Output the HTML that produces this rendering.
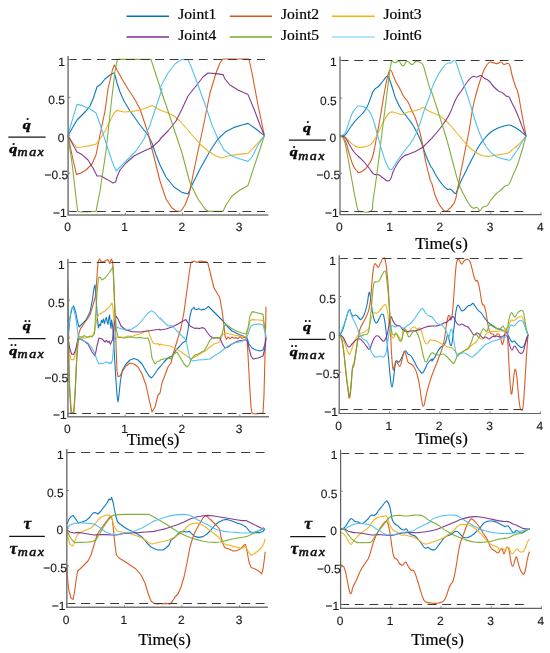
<!DOCTYPE html>
<html><head><meta charset="utf-8"><title>Joint trajectories</title>
<style>
html,body{margin:0;padding:0;background:#fff;}
body{width:550px;height:653px;overflow:hidden;}
svg{display:block;}
.tk{font-family:"Liberation Sans",Arial,sans-serif;font-size:12px;fill:#1c1c1c;stroke:#1c1c1c;stroke-width:0.15px;text-rendering:geometricPrecision;}
.tm{font-family:"Liberation Serif","Times New Roman",serif;font-size:16.8px;fill:#000;stroke:#000;stroke-width:0.2px;}
.lg{font-family:"Liberation Serif","Times New Roman",serif;font-size:15.6px;fill:#000;stroke:#000;stroke-width:0.2px;}
.q{font-family:"Liberation Serif","Times New Roman",serif;font-weight:bold;font-style:italic;font-size:13.4px;fill:#0a0a0a;stroke:#0a0a0a;stroke-width:0.5px;}
.mx{font-family:"Liberation Serif","Times New Roman",serif;font-style:italic;font-size:11.6px;fill:#111;letter-spacing:1.25px;stroke:#111;stroke-width:0.5px;}
.tau{font-family:"Liberation Serif","Times New Roman",serif;font-weight:bold;font-style:italic;font-size:17.5px;fill:#111;stroke:#111;stroke-width:0.4px;}
.dt{font-family:"Liberation Serif","Times New Roman",serif;font-weight:bold;font-size:13px;fill:#111;}
.cv{fill:none;stroke-width:1.1;stroke-opacity:0.95;stroke-linejoin:round;stroke-linecap:round;}
</style></head><body>
<svg width="550" height="653" viewBox="0 0 550 653">
<rect width="550" height="653" fill="#fff"/>
<line x1="126.5" y1="16.3" x2="169" y2="16.3" stroke="#0072bd" stroke-width="1.5"/>
<text class="lg" x="178.2" y="19.3">Joint1</text>
<line x1="229.8" y1="16.3" x2="272" y2="16.3" stroke="#d95319" stroke-width="1.5"/>
<text class="lg" x="281" y="19.3">Joint2</text>
<line x1="332" y1="16.3" x2="374.8" y2="16.3" stroke="#fab300" stroke-width="1.5"/>
<text class="lg" x="383.5" y="19.3">Joint3</text>
<line x1="126.5" y1="36.9" x2="169" y2="36.9" stroke="#7e2f8e" stroke-width="1.5"/>
<text class="lg" x="178.2" y="39.9">Joint4</text>
<line x1="229.8" y1="36.9" x2="272" y2="36.9" stroke="#77ac30" stroke-width="1.5"/>
<text class="lg" x="281" y="39.9">Joint5</text>
<line x1="332" y1="36.9" x2="374.8" y2="36.9" stroke="#9dd8f5" stroke-width="1.5"/>
<text class="lg" x="383.5" y="39.9">Joint6</text>
<g id="L1">
<polyline class="cv" stroke="#0072bd" points="68.0,135.6 77.0,120.0 81.0,116.0 86.0,111.0 90.0,106.0 93.0,99.0 97.0,87.0 101.0,84.0 105.0,79.0 110.0,75.0 113.6,73.0 115.0,75.0 117.0,83.0 120.0,92.0 124.0,101.0 130.0,111.0 140.0,125.0 148.0,135.0 152.0,143.0 156.0,155.0 160.0,165.0 166.0,177.0 174.0,187.0 182.0,192.4 188.0,194.0 192.0,185.0 200.0,169.0 210.0,151.0 218.0,139.0 226.0,131.4 234.0,127.4 242.0,125.0 248.0,123.4 256.0,129.0 264.4,135.6"/>
<polyline class="cv" stroke="#d95319" points="68.0,135.6 72.0,155.0 76.4,174.4 80.0,173.4 86.0,170.0 92.0,164.0 96.0,155.0 100.0,135.0 105.0,111.0 108.0,89.0 112.4,70.0 114.4,65.0 117.0,70.0 122.0,79.0 128.0,89.0 134.0,98.0 140.0,109.0 144.0,121.0 148.0,133.0 152.0,149.0 156.0,165.0 160.0,181.0 166.0,199.0 172.0,208.0 177.0,211.4 181.0,211.0 185.0,205.0 189.0,195.0 193.0,175.0 198.0,151.0 204.0,123.0 210.0,93.0 216.0,73.0 220.0,63.0 223.0,59.0 249.0,59.0 252.0,73.0 258.0,105.0 264.4,135.6"/>
<polyline class="cv" stroke="#edb120" points="68.0,135.6 73.0,143.0 77.0,147.4 82.0,147.0 90.0,145.6 96.0,144.0 100.0,139.0 105.0,131.0 110.0,121.0 114.0,113.0 117.0,110.4 124.0,112.0 132.0,111.4 140.0,110.0 146.0,108.0 152.0,105.6 160.0,110.0 160.0,110.0 168.0,113.0 174.0,116.0 180.0,121.0 186.0,128.0 192.0,135.0 200.0,144.0 208.0,151.0 216.0,156.0 222.0,158.0 228.0,156.0 236.0,154.6 248.0,153.4 256.0,145.0 264.4,135.6"/>
<polyline class="cv" stroke="#7e2f8e" points="68.0,135.6 72.0,143.0 77.0,152.0 82.0,154.6 88.0,160.0 93.0,168.0 97.0,176.0 101.0,176.0 107.0,179.4 113.0,183.0 115.6,182.0 117.0,177.0 120.0,170.0 126.0,163.0 134.0,156.0 144.0,151.0 152.0,147.4 160.0,140.0 160.0,139.0 168.0,131.0 176.0,121.0 182.0,109.0 188.0,96.0 196.0,86.0 203.0,77.0 208.0,73.0 216.0,73.6 223.0,74.6 225.0,79.0 230.0,85.0 238.0,90.0 248.0,94.6 254.0,109.0 260.0,125.0 264.4,135.6"/>
<polyline class="cv" stroke="#77ac30" points="68.0,135.6 72.0,163.0 77.6,211.0 80.0,212.0 96.0,211.4 100.0,191.0 106.0,151.0 111.0,105.0 115.0,71.0 117.4,59.4 151.0,59.4 156.0,75.0 164.0,99.0 160.0,88.0 166.0,105.0 174.0,129.0 182.0,153.0 190.0,183.0 198.0,199.0 205.0,209.0 208.0,211.4 223.0,211.4 226.0,205.0 232.0,196.0 240.0,190.0 248.0,185.4 254.0,167.0 260.0,149.0 264.4,135.6"/>
<polyline class="cv" stroke="#4dbeee" points="68.0,135.6 72.0,121.0 77.0,104.4 82.0,105.4 90.0,109.0 96.0,113.0 100.0,124.0 106.0,143.0 112.0,161.0 116.0,171.0 120.0,167.0 128.0,159.0 136.0,151.0 144.0,139.0 150.0,125.0 156.0,107.0 162.0,89.0 160.0,88.0 168.0,73.0 175.0,64.0 181.0,59.6 188.0,59.6 192.0,69.0 198.0,85.0 206.0,107.0 212.0,125.0 218.0,139.0 224.0,150.0 232.0,156.0 240.0,159.0 248.0,161.4 252.0,157.0 258.0,145.0 264.4,135.6"/>
<line x1="67.8" y1="59.50" x2="265.0" y2="59.50" stroke="#3a3a3a" stroke-width="1.2" stroke-dasharray="8.9 5.65"/>
<line x1="67.8" y1="211.50" x2="265.0" y2="211.50" stroke="#3a3a3a" stroke-width="1.2" stroke-dasharray="8.9 5.65"/>
<path d="M68.1 55.9 V214.9 H268.3" fill="none" stroke="#787878" stroke-width="1.5"/>
<line x1="68.1" y1="59.5" x2="70.3" y2="59.5" stroke="#787878" stroke-width="0.9"/>
<text class="tk" x="64.9" y="65.5" text-anchor="end">1</text>
<line x1="68.1" y1="97.4" x2="70.3" y2="97.4" stroke="#787878" stroke-width="0.9"/>
<text class="tk" x="64.9" y="103.9" text-anchor="end">0.5</text>
<line x1="68.1" y1="135.3" x2="70.3" y2="135.3" stroke="#787878" stroke-width="0.9"/>
<text class="tk" x="64.4" y="141.5" text-anchor="end">0</text>
<line x1="68.1" y1="173.3" x2="70.3" y2="173.3" stroke="#787878" stroke-width="0.9"/>
<text class="tk" x="68.3" y="179.2" text-anchor="end">−0.5</text>
<line x1="68.1" y1="211.2" x2="70.3" y2="211.2" stroke="#787878" stroke-width="0.9"/>
<text class="tk" x="66.8" y="217.2" text-anchor="end">−1</text>
<line x1="68.1" y1="214.9" x2="68.1" y2="212.70000000000002" stroke="#787878" stroke-width="0.9"/>
<text class="tk" x="67.5" y="231.4" text-anchor="middle">0</text>
<line x1="125.3" y1="214.9" x2="125.3" y2="212.70000000000002" stroke="#787878" stroke-width="0.9"/>
<text class="tk" x="124.7" y="231.4" text-anchor="middle">1</text>
<line x1="182.5" y1="214.9" x2="182.5" y2="212.70000000000002" stroke="#787878" stroke-width="0.9"/>
<text class="tk" x="181.9" y="231.4" text-anchor="middle">2</text>
<line x1="239.7" y1="214.9" x2="239.7" y2="212.70000000000002" stroke="#787878" stroke-width="0.9"/>
<text class="tk" x="239.1" y="231.4" text-anchor="middle">3</text>
</g>
<g id="R1">
<path class="cv" stroke="#0072bd" d="M340.4 136.0C341.6 135.7 343.1 136.3 345.0 135.0C346.9 133.7 346.2 133.5 348.0 131.0C349.8 128.5 349.7 128.0 352.0 125.0C354.3 122.0 354.5 121.8 357.0 119.0C359.5 116.2 359.5 117.0 362.0 114.0C364.5 111.0 364.7 111.3 367.0 107.0C369.3 102.7 369.2 101.3 371.0 97.0C372.8 92.7 372.0 92.8 374.0 90.0C376.0 87.2 376.7 88.3 379.0 86.0C381.3 83.7 380.8 83.5 383.0 81.0C385.2 78.5 385.8 76.0 387.6 76.0C389.4 76.0 388.6 77.5 390.0 81.0C391.4 84.5 391.5 85.4 393.0 90.0C394.5 94.6 394.0 94.2 396.0 99.0C398.0 103.8 398.2 104.4 401.0 109.0C403.8 113.6 403.7 112.4 407.0 117.0C410.3 121.6 410.7 121.4 414.0 127.0C417.3 132.6 417.2 132.4 420.0 139.0C422.8 145.6 422.5 146.4 425.0 153.0C427.5 159.6 428.2 161.2 430.0 165.0C431.8 168.8 430.2 165.0 432.0 168.0C433.8 171.0 434.5 172.9 437.0 177.0C439.5 181.1 439.5 181.0 442.0 184.0C444.5 187.0 444.7 187.6 447.0 189.0C449.3 190.4 449.0 188.3 451.0 189.4C453.0 190.5 453.5 193.0 455.0 193.4C456.5 193.8 455.5 194.1 457.0 191.0C458.5 187.9 458.5 186.6 461.0 181.0C463.5 175.4 464.0 175.1 467.0 169.0C470.0 162.9 470.0 162.8 473.0 157.0C476.0 151.2 476.0 150.8 479.0 146.0C482.0 141.2 482.0 141.5 485.0 138.0C488.0 134.5 488.0 134.4 491.0 132.0C494.0 129.6 494.0 130.0 497.0 128.6C500.0 127.2 500.0 127.3 503.0 126.4C506.0 125.5 506.5 125.0 509.0 125.0C511.5 125.0 510.5 125.1 513.0 126.4C515.5 127.7 516.5 128.2 519.0 130.0C521.5 131.8 521.2 131.9 523.0 133.4C524.8 134.9 525.2 135.3 526.0 136.0"/>
<path class="cv" stroke="#d95319" d="M340.4 136.0C341.6 137.0 342.8 135.7 345.0 140.0C347.2 144.3 347.0 146.7 349.0 153.0C351.0 159.3 351.0 160.4 353.0 165.0C355.0 169.6 355.5 169.1 357.0 171.0C358.5 172.9 357.2 172.9 359.0 172.6C360.8 172.3 361.5 172.2 364.0 170.0C366.5 167.8 366.7 167.8 369.0 164.0C371.3 160.2 371.0 162.3 373.0 155.0C375.0 147.7 375.0 145.6 377.0 135.0C379.0 124.4 379.0 124.7 381.0 113.0C383.0 101.3 383.2 98.6 385.0 89.0C386.8 79.4 386.6 79.8 388.0 75.0C389.4 70.2 389.1 70.0 390.4 70.0C391.7 70.0 391.6 72.0 393.0 75.0C394.4 78.0 394.2 78.5 396.0 82.0C397.8 85.5 398.0 85.2 400.0 89.0C402.0 92.8 402.0 93.7 404.0 97.0C406.0 100.3 406.0 98.5 408.0 102.0C410.0 105.5 410.0 106.4 412.0 111.0C414.0 115.6 414.0 114.4 416.0 120.0C418.0 125.6 418.2 126.2 420.0 133.0C421.8 139.8 421.5 139.4 423.0 147.0C424.5 154.6 424.2 154.9 426.0 163.0C427.8 171.1 428.5 173.7 430.0 179.0C431.5 184.3 430.7 179.9 432.0 184.0C433.3 188.1 433.2 189.9 435.0 195.0C436.8 200.1 437.0 200.4 439.0 204.0C441.0 207.6 441.2 207.5 443.0 209.4C444.8 211.3 444.5 211.5 446.0 211.4C447.5 211.3 447.2 210.7 449.0 209.0C450.8 207.3 451.3 207.1 453.0 204.6C454.7 202.1 454.4 203.0 455.6 199.0C456.8 195.0 456.2 196.1 457.6 189.0C459.0 181.9 459.1 180.6 461.0 171.0C462.9 161.4 463.0 161.1 465.0 151.0C467.0 140.9 467.0 142.1 469.0 131.0C471.0 119.9 471.0 117.1 473.0 107.0C475.0 96.9 475.0 98.3 477.0 91.0C479.0 83.7 479.0 83.8 481.0 78.0C483.0 72.2 483.0 71.9 485.0 68.0C487.0 64.1 487.0 64.0 489.0 62.6C491.0 61.2 491.0 62.3 493.0 62.6C495.0 62.9 495.0 63.8 497.0 63.6C499.0 63.4 499.2 61.8 501.0 62.0C502.8 62.2 502.3 64.0 504.0 64.4C505.7 64.8 506.1 63.0 507.6 63.4C509.1 63.8 508.9 63.1 510.0 66.0C511.1 68.9 510.7 70.2 512.0 75.0C513.3 79.8 513.5 80.4 515.0 85.0C516.5 89.6 516.5 86.9 518.0 93.0C519.5 99.1 519.6 101.4 521.0 109.0C522.4 116.6 522.3 116.2 523.6 123.0C524.9 129.8 525.4 132.7 526.0 136.0"/>
<path class="cv" stroke="#edb120" d="M340.4 136.0C341.6 136.3 342.6 135.5 345.0 137.0C347.4 138.5 347.5 139.7 350.0 142.0C352.5 144.3 352.5 144.6 355.0 146.0C357.5 147.4 357.2 147.3 360.0 147.4C362.8 147.5 363.2 147.3 366.0 146.4C368.8 145.5 368.7 145.9 371.0 144.0C373.3 142.1 372.7 142.8 375.0 139.0C377.3 135.2 377.5 134.1 380.0 129.0C382.5 123.9 382.5 123.2 385.0 119.0C387.5 114.8 387.2 113.9 390.0 112.4C392.8 110.9 393.0 112.5 396.0 113.0C399.0 113.5 399.0 114.7 402.0 114.4C405.0 114.1 405.0 112.9 408.0 112.0C411.0 111.1 411.0 111.8 414.0 111.0C417.0 110.2 417.6 109.9 420.0 109.0C422.4 108.1 421.8 107.1 423.6 107.4C425.4 107.7 424.9 108.7 427.0 110.0C429.1 111.3 429.2 111.1 432.0 112.4C434.8 113.7 435.0 113.3 438.0 115.0C441.0 116.7 441.0 116.5 444.0 119.0C447.0 121.5 447.0 121.7 450.0 125.0C453.0 128.3 453.0 128.5 456.0 132.0C459.0 135.5 459.0 135.5 462.0 139.0C465.0 142.5 465.0 143.0 468.0 146.0C471.0 149.0 471.0 148.8 474.0 151.0C477.0 153.2 476.7 153.2 480.0 154.6C483.3 156.0 483.5 156.2 487.0 156.4C490.5 156.6 490.5 155.9 494.0 155.4C497.5 154.9 497.5 155.0 501.0 154.4C504.5 153.8 505.2 154.1 508.0 153.0C510.8 151.9 509.5 152.0 512.0 150.0C514.5 148.0 515.5 147.3 518.0 145.0C520.5 142.7 520.0 143.3 522.0 141.0C524.0 138.7 525.0 137.3 526.0 136.0"/>
<path class="cv" stroke="#7e2f8e" d="M340.4 136.0C341.6 136.4 342.8 135.4 345.0 137.4C347.2 139.4 346.7 140.3 349.0 144.0C351.3 147.7 351.5 148.7 354.0 152.0C356.5 155.3 356.5 154.5 359.0 157.0C361.5 159.5 361.5 159.2 364.0 162.0C366.5 164.8 366.7 165.1 369.0 168.0C371.3 170.9 371.2 171.7 373.0 173.4C374.8 175.1 374.5 174.2 376.0 174.6C377.5 175.0 377.2 174.1 379.0 175.0C380.8 175.9 380.7 176.5 383.0 178.0C385.3 179.5 386.0 181.0 388.0 181.0C390.0 181.0 389.7 180.3 391.0 178.0C392.3 175.7 391.7 175.0 393.0 172.0C394.3 169.0 394.2 169.0 396.0 166.0C397.8 163.0 398.0 162.5 400.0 160.0C402.0 157.5 402.0 157.4 404.0 156.0C406.0 154.6 405.5 155.6 408.0 154.6C410.5 153.6 411.0 153.4 414.0 152.0C417.0 150.6 417.5 150.5 420.0 149.0C422.5 147.5 421.5 148.3 424.0 146.0C426.5 143.7 428.0 142.0 430.0 140.0C432.0 138.0 430.0 140.3 432.0 138.0C434.0 135.7 435.0 134.8 438.0 131.0C441.0 127.2 441.0 127.6 444.0 123.0C447.0 118.4 447.0 119.1 450.0 113.0C453.0 106.9 453.0 104.8 456.0 99.0C459.0 93.2 459.0 94.6 462.0 90.0C465.0 85.4 465.2 84.4 468.0 81.0C470.8 77.6 470.7 77.6 473.0 76.6C475.3 75.6 475.0 77.3 477.0 77.0C479.0 76.7 479.2 75.3 481.0 75.6C482.8 75.9 482.0 76.6 484.0 78.0C486.0 79.4 486.5 78.7 489.0 81.0C491.5 83.3 491.5 84.4 494.0 87.0C496.5 89.6 497.0 90.0 499.0 91.4C501.0 92.8 500.2 91.2 502.0 92.4C503.8 93.6 504.2 94.8 506.0 96.0C507.8 97.2 507.5 95.2 509.0 97.0C510.5 98.8 510.2 99.5 512.0 103.0C513.8 106.5 514.0 106.4 516.0 111.0C518.0 115.6 518.2 116.4 520.0 121.0C521.8 125.6 521.5 125.2 523.0 129.0C524.5 132.8 525.2 134.2 526.0 136.0"/>
<path class="cv" stroke="#77ac30" d="M340.4 136.0C341.3 137.0 342.3 135.7 344.0 140.0C345.7 144.3 345.2 144.1 347.0 153.0C348.8 161.9 349.0 163.9 351.0 175.0C353.0 186.1 353.2 188.1 355.0 197.0C356.8 205.9 356.7 206.4 358.0 210.0C359.3 213.6 356.7 211.1 360.0 211.4C363.3 211.7 367.7 213.6 371.0 211.0C374.3 208.4 371.5 210.6 373.0 201.0C374.5 191.4 375.0 188.2 377.0 173.0C379.0 157.8 378.2 163.3 381.0 141.0C383.8 118.7 385.5 104.5 388.0 85.0C390.5 65.5 389.7 69.8 391.0 64.0C392.3 58.2 391.7 62.4 393.0 62.0C394.3 61.6 394.5 62.9 396.0 62.6C397.5 62.3 397.2 60.1 399.0 61.0C400.8 61.9 401.0 65.9 403.0 66.0C405.0 66.1 404.7 61.8 407.0 61.4C409.3 61.0 409.7 64.6 412.0 64.6C414.3 64.6 414.0 61.9 416.0 61.4C418.0 60.9 418.2 61.7 420.0 62.6C421.8 63.5 421.5 61.9 423.0 65.0C424.5 68.1 424.2 68.9 426.0 75.0C427.8 81.1 428.5 84.4 430.0 89.0C431.5 93.6 430.5 88.9 432.0 93.0C433.5 97.1 433.7 97.9 436.0 105.0C438.3 112.1 438.5 112.9 441.0 121.0C443.5 129.1 443.2 127.4 446.0 137.0C448.8 146.6 449.0 147.9 452.0 159.0C455.0 170.1 455.0 171.9 458.0 181.0C461.0 190.1 461.2 189.2 464.0 195.0C466.8 200.8 466.7 200.7 469.0 204.0C471.3 207.3 471.0 207.1 473.0 208.0C475.0 208.9 475.2 206.7 477.0 207.4C478.8 208.1 478.5 210.7 480.0 210.6C481.5 210.5 481.2 208.3 483.0 207.0C484.8 205.7 485.0 207.4 487.0 205.6C489.0 203.8 488.7 202.9 491.0 200.0C493.3 197.1 493.5 196.5 496.0 194.0C498.5 191.5 498.7 192.0 501.0 190.0C503.3 188.0 503.0 187.5 505.0 186.0C507.0 184.5 507.0 186.8 509.0 184.0C511.0 181.2 511.0 179.6 513.0 175.0C515.0 170.4 515.2 170.6 517.0 166.0C518.8 161.4 518.5 161.8 520.0 157.0C521.5 152.2 521.5 152.3 523.0 147.0C524.5 141.7 525.2 138.8 526.0 136.0"/>
<path class="cv" stroke="#4dbeee" d="M340.4 136.0C341.6 135.2 343.1 135.8 345.0 133.0C346.9 130.2 346.2 129.8 348.0 125.0C349.8 120.2 350.0 118.3 352.0 114.0C354.0 109.7 354.2 110.0 356.0 108.0C357.8 106.0 357.0 106.3 359.0 106.0C361.0 105.7 361.5 105.7 364.0 107.0C366.5 108.3 366.7 108.0 369.0 111.0C371.3 114.0 371.0 113.4 373.0 119.0C375.0 124.6 374.7 124.9 377.0 133.0C379.3 141.1 379.5 142.9 382.0 151.0C384.5 159.1 384.7 160.3 387.0 165.0C389.3 169.7 389.2 169.3 391.0 169.6C392.8 169.9 391.7 169.2 394.0 166.0C396.3 162.8 397.0 161.3 400.0 157.0C403.0 152.7 403.0 153.1 406.0 149.0C409.0 144.9 409.0 146.1 412.0 141.0C415.0 135.9 415.0 136.6 418.0 129.0C421.0 121.4 421.0 119.6 424.0 111.0C427.0 102.4 428.0 100.8 430.0 95.0C432.0 89.2 430.2 92.6 432.0 88.0C433.8 83.4 434.5 81.8 437.0 77.0C439.5 72.2 439.5 72.4 442.0 69.0C444.5 65.6 444.7 64.9 447.0 63.4C449.3 61.9 449.5 63.6 451.0 63.0C452.5 62.4 452.0 61.6 453.0 61.0C454.0 60.4 454.0 59.6 455.0 60.6C456.0 61.6 455.5 60.8 457.0 65.0C458.5 69.2 458.7 70.4 461.0 77.0C463.3 83.6 463.5 83.4 466.0 91.0C468.5 98.6 468.5 98.9 471.0 107.0C473.5 115.1 473.2 114.9 476.0 123.0C478.8 131.1 479.0 132.4 482.0 139.0C485.0 145.6 485.0 144.9 488.0 149.0C491.0 153.1 491.0 152.7 494.0 155.0C497.0 157.3 497.0 156.9 500.0 158.0C503.0 159.1 503.5 158.9 506.0 159.4C508.5 159.9 508.2 160.9 510.0 160.0C511.8 159.1 511.0 158.8 513.0 156.0C515.0 153.2 515.7 152.5 518.0 149.0C520.3 145.5 520.0 145.3 522.0 142.0C524.0 138.7 525.0 137.5 526.0 136.0"/>
<line x1="339.7" y1="60.50" x2="525.0" y2="60.50" stroke="#3a3a3a" stroke-width="1.2" stroke-dasharray="8.9 5.65"/>
<line x1="339.7" y1="211.50" x2="525.0" y2="211.50" stroke="#3a3a3a" stroke-width="1.2" stroke-dasharray="8.9 5.65"/>
<path d="M340.0 56.6 V214.6 H541.6" fill="none" stroke="#626262" stroke-width="1.2"/>
<line x1="340.0" y1="60.4" x2="342.2" y2="60.4" stroke="#787878" stroke-width="0.9"/>
<text class="tk" x="336.8" y="66.4" text-anchor="end">1</text>
<line x1="340.0" y1="98.1" x2="342.2" y2="98.1" stroke="#787878" stroke-width="0.9"/>
<text class="tk" x="336.8" y="104.6" text-anchor="end">0.5</text>
<line x1="340.0" y1="135.8" x2="342.2" y2="135.8" stroke="#787878" stroke-width="0.9"/>
<text class="tk" x="336.3" y="142.0" text-anchor="end">0</text>
<line x1="340.0" y1="173.5" x2="342.2" y2="173.5" stroke="#787878" stroke-width="0.9"/>
<text class="tk" x="340.2" y="179.4" text-anchor="end">−0.5</text>
<line x1="340.0" y1="211.2" x2="342.2" y2="211.2" stroke="#787878" stroke-width="0.9"/>
<text class="tk" x="338.7" y="217.2" text-anchor="end">−1</text>
<line x1="340.0" y1="214.6" x2="340.0" y2="212.4" stroke="#787878" stroke-width="0.9"/>
<text class="tk" x="339.4" y="231.1" text-anchor="middle">0</text>
<line x1="390.2" y1="214.6" x2="390.2" y2="212.4" stroke="#787878" stroke-width="0.9"/>
<text class="tk" x="389.6" y="231.1" text-anchor="middle">1</text>
<line x1="440.5" y1="214.6" x2="440.5" y2="212.4" stroke="#787878" stroke-width="0.9"/>
<text class="tk" x="439.9" y="231.1" text-anchor="middle">2</text>
<line x1="490.8" y1="214.6" x2="490.8" y2="212.4" stroke="#787878" stroke-width="0.9"/>
<text class="tk" x="490.1" y="231.1" text-anchor="middle">3</text>
<line x1="541.0" y1="214.6" x2="541.0" y2="212.4" stroke="#787878" stroke-width="0.9"/>
<text class="tk" x="540.4" y="231.1" text-anchor="middle">4</text>
</g>
<g id="L2">
<polyline class="cv" stroke="#0072bd" points="68.0,338.0 70.0,318.0 72.0,308.0 73.6,306.0 75.6,312.0 77.6,322.0 79.0,327.0 81.0,325.0 83.6,322.4 86.0,320.0 90.0,312.0 92.4,300.0 94.0,288.0 95.0,285.0 96.0,296.0 97.2,316.0 98.4,328.0 99.4,324.4 100.4,325.6 101.4,320.4 102.4,322.4 103.4,319.0 104.4,323.6 105.4,319.6 106.4,317.6 107.2,322.4 108.0,324.4 108.8,318.0 109.6,315.0 110.2,323.0 111.0,328.4 111.6,320.0 112.4,324.4 113.0,330.0 113.6,338.0 114.4,355.0 115.6,375.0 117.0,395.0 118.0,402.0 119.0,395.0 120.4,381.0 122.4,370.0 126.0,364.0 130.0,360.0 134.0,358.6 138.0,360.0 142.0,364.0 146.0,371.0 149.0,376.0 151.6,378.0 154.0,375.0 158.0,369.0 160.0,367.0 164.0,362.0 168.0,358.0 172.0,356.0 176.0,350.0 180.0,346.0 183.0,342.4 186.0,341.0 188.0,330.0 190.0,316.0 191.6,309.6 193.0,308.4 194.0,307.2 195.0,309.2 197.0,309.6 199.0,308.6 200.0,309.4 201.6,310.0 203.0,309.2 204.4,309.6 206.0,308.4 208.4,306.4 211.0,309.0 215.0,313.0 219.0,317.0 223.0,321.0 227.0,326.0 232.0,331.0 238.0,334.0 244.0,336.4 247.0,338.0 249.0,344.0 252.0,348.0 256.0,350.0 260.0,351.0 263.0,350.0 265.0,344.0 266.0,338.0"/>
<polyline class="cv" stroke="#d95319" points="68.0,280.0 68.4,310.0 68.8,355.0 69.6,391.0 71.0,412.6 73.6,413.4 75.2,391.0 76.8,357.0 78.4,338.0 79.0,333.0 80.0,330.0 81.0,328.0 82.0,327.0 83.0,325.0 86.0,321.0 90.0,315.0 93.0,305.0 95.6,296.0 97.0,276.0 98.0,262.0 99.6,259.0 101.0,261.6 103.0,262.0 105.0,261.0 108.0,259.6 109.2,262.4 110.0,263.6 110.8,260.0 111.6,259.2 112.6,262.0 113.6,276.0 114.4,300.0 116.0,345.0 117.0,371.0 118.0,376.6 120.0,376.0 122.0,372.0 126.0,366.0 130.0,363.0 134.0,364.0 138.0,367.0 142.0,374.0 146.0,385.0 149.0,399.0 152.0,412.0 155.0,407.0 158.0,395.0 160.0,393.0 162.0,383.0 165.0,375.0 168.0,367.0 171.0,363.0 174.0,351.0 178.0,338.0 181.0,328.0 184.0,312.0 187.0,290.0 189.6,270.0 191.0,262.4 194.0,261.0 197.0,262.4 200.0,261.0 204.0,261.6 207.6,262.4 209.6,270.0 212.0,280.0 214.0,288.0 217.0,293.0 219.6,297.0 222.0,310.0 224.0,326.0 225.0,336.0 226.4,339.4 228.0,337.0 230.0,338.8 232.0,337.0 234.0,338.2 236.0,337.6 238.0,338.8 240.0,336.4 242.0,338.4 244.0,337.2 247.0,339.0 248.0,355.0 249.6,385.0 251.0,407.0 252.0,413.0 255.0,414.0 260.0,413.4 263.0,413.0 264.0,395.0 265.0,355.0 266.0,307.0"/>
<polyline class="cv" stroke="#edb120" points="68.0,338.0 69.0,350.0 71.0,359.6 74.0,359.6 76.0,350.0 78.0,338.0 80.0,338.4 83.0,337.6 86.0,338.0 89.0,337.2 92.0,336.0 95.0,330.0 97.0,318.0 99.0,314.0 101.0,313.6 103.0,312.0 105.0,311.0 107.0,309.0 108.4,308.0 110.0,306.0 111.0,304.0 112.0,303.0 113.2,310.0 114.4,330.0 116.0,338.0 120.0,337.0 124.0,337.2 128.0,336.0 132.0,336.4 136.0,335.0 140.0,334.0 144.0,332.0 148.0,330.0 150.0,336.0 153.0,343.0 156.0,344.0 158.0,343.6 160.0,345.6 160.0,344.0 164.0,345.0 170.0,346.0 176.0,349.0 180.0,351.0 184.0,354.0 188.0,357.0 191.0,359.0 195.0,357.0 200.0,354.0 205.0,351.0 210.0,347.0 214.0,344.0 219.0,342.4 221.0,338.0 223.0,334.0 226.0,333.0 230.0,334.0 234.0,335.0 240.0,336.0 246.0,337.0 248.0,330.0 250.0,321.0 252.0,319.6 258.0,320.0 263.0,320.4 265.0,330.0 266.0,338.0"/>
<polyline class="cv" stroke="#7e2f8e" points="68.0,338.0 69.6,348.0 71.6,354.0 73.6,354.4 75.6,350.0 78.0,339.0 82.0,339.6 88.0,344.0 92.0,352.0 95.0,356.0 97.0,346.0 99.0,338.0 102.0,339.0 105.0,342.0 106.4,340.4 108.0,342.4 109.2,341.0 110.4,344.4 111.6,341.6 112.6,339.6 114.0,326.0 116.0,316.0 118.0,319.0 121.0,326.0 126.0,330.0 132.0,331.6 140.0,332.0 148.0,331.0 154.0,330.0 160.0,329.2 160.0,330.0 166.0,329.0 172.0,327.0 178.0,324.0 183.0,321.0 186.0,319.6 188.0,323.0 190.0,326.0 193.0,327.6 195.0,328.4 197.0,328.0 199.0,328.6 201.0,328.0 203.0,327.6 205.0,329.0 207.0,332.0 210.0,336.0 213.0,338.0 217.0,338.0 220.0,338.0 222.4,344.0 225.0,348.0 228.0,347.0 232.0,344.0 238.0,341.0 244.0,340.0 247.0,340.0 249.0,348.0 251.0,356.0 253.0,359.0 258.0,358.0 263.0,356.0 265.0,348.0 266.0,338.0"/>
<polyline class="cv" stroke="#77ac30" points="68.0,287.0 68.2,330.0 69.0,375.0 71.0,407.0 72.0,413.0 74.0,412.0 75.0,395.0 76.4,365.0 78.0,338.0 80.0,336.4 82.0,337.2 84.0,335.6 86.0,336.4 88.0,337.2 90.0,336.0 92.0,337.0 94.4,334.0 95.6,316.0 97.0,294.0 98.4,278.0 100.0,277.0 102.0,280.0 105.0,278.0 109.0,273.0 111.6,269.0 113.0,267.0 113.6,280.0 115.0,310.0 116.4,330.0 118.0,337.0 124.0,338.0 128.0,337.2 132.0,337.0 136.0,338.0 140.0,337.4 144.0,338.2 148.0,338.0 150.0,344.0 152.0,358.0 155.0,364.0 157.6,361.2 160.0,361.0 160.0,360.0 164.0,359.0 168.0,358.0 171.0,359.0 174.0,354.0 177.0,352.0 180.0,357.0 184.0,364.0 187.0,367.0 189.6,364.0 191.0,359.6 193.0,357.0 195.0,355.0 197.0,354.4 200.0,353.0 202.0,351.6 204.0,351.0 207.0,346.0 210.0,340.0 213.0,337.6 217.0,337.6 220.0,337.6 222.0,334.0 224.0,326.0 227.0,325.0 231.0,328.0 236.0,331.0 242.0,333.0 246.0,334.0 248.0,328.0 250.0,316.0 252.4,311.6 258.0,313.0 263.0,314.4 264.4,326.0 266.0,338.0"/>
<polyline class="cv" stroke="#4dbeee" points="68.0,338.0 69.6,320.0 71.0,310.0 73.0,307.0 75.0,314.0 77.0,326.0 78.4,338.0 82.0,340.0 88.0,343.0 92.0,348.0 95.0,354.0 97.0,360.0 99.0,364.0 101.0,363.2 103.0,363.6 105.0,362.4 107.0,362.0 109.0,363.6 110.0,362.4 111.2,363.6 112.4,360.0 113.6,346.0 115.0,334.0 117.0,327.0 120.0,328.4 126.0,330.0 132.0,329.0 138.0,325.0 144.0,318.0 148.0,313.0 151.6,310.6 155.0,313.0 160.0,319.0 160.0,318.0 164.0,322.0 168.0,326.0 172.0,325.6 176.0,330.0 180.0,334.0 184.0,338.0 186.0,340.0 188.0,350.0 190.0,359.0 193.0,361.0 198.0,360.0 204.0,359.6 210.0,359.0 214.0,356.0 219.0,353.0 224.0,349.0 228.0,346.0 234.0,343.0 240.0,341.6 246.0,340.0 248.0,334.0 251.0,326.0 254.0,324.4 259.0,324.0 263.0,325.0 265.0,332.0 266.0,338.0"/>
<line x1="67.6" y1="262.50" x2="266.1" y2="262.50" stroke="#3a3a3a" stroke-width="1.2" stroke-dasharray="8.9 5.65"/>
<line x1="67.6" y1="413.50" x2="266.1" y2="413.50" stroke="#3a3a3a" stroke-width="1.2" stroke-dasharray="8.9 5.65"/>
<path d="M67.9 258.9 V416.7 H269.0" fill="none" stroke="#787878" stroke-width="1.5"/>
<line x1="67.9" y1="262.5" x2="70.1" y2="262.5" stroke="#787878" stroke-width="0.9"/>
<text class="tk" x="64.7" y="268.5" text-anchor="end">1</text>
<line x1="67.9" y1="300.2" x2="70.1" y2="300.2" stroke="#787878" stroke-width="0.9"/>
<text class="tk" x="64.7" y="306.7" text-anchor="end">0.5</text>
<line x1="67.9" y1="337.9" x2="70.1" y2="337.9" stroke="#787878" stroke-width="0.9"/>
<text class="tk" x="64.2" y="344.1" text-anchor="end">0</text>
<line x1="67.9" y1="375.6" x2="70.1" y2="375.6" stroke="#787878" stroke-width="0.9"/>
<text class="tk" x="68.1" y="381.5" text-anchor="end">−0.5</text>
<line x1="67.9" y1="413.3" x2="70.1" y2="413.3" stroke="#787878" stroke-width="0.9"/>
<text class="tk" x="66.6" y="419.3" text-anchor="end">−1</text>
<line x1="67.9" y1="416.7" x2="67.9" y2="414.5" stroke="#787878" stroke-width="0.9"/>
<text class="tk" x="67.3" y="433.2" text-anchor="middle">0</text>
<line x1="125.2" y1="416.7" x2="125.2" y2="414.5" stroke="#787878" stroke-width="0.9"/>
<text class="tk" x="124.6" y="433.2" text-anchor="middle">1</text>
<line x1="182.5" y1="416.7" x2="182.5" y2="414.5" stroke="#787878" stroke-width="0.9"/>
<text class="tk" x="181.9" y="433.2" text-anchor="middle">2</text>
<line x1="239.8" y1="416.7" x2="239.8" y2="414.5" stroke="#787878" stroke-width="0.9"/>
<text class="tk" x="239.2" y="433.2" text-anchor="middle">3</text>
</g>
<g id="R2">
<path class="cv" stroke="#0072bd" d="M340.0 335.0C340.8 333.5 341.5 333.1 343.0 329.0C344.5 324.9 344.5 323.8 346.0 319.0C347.5 314.2 347.7 311.5 349.0 310.0C350.3 308.5 350.0 311.5 351.0 313.0C352.0 314.5 351.7 315.5 353.0 316.0C354.3 316.5 354.5 314.5 356.0 315.0C357.5 315.5 357.7 316.9 359.0 318.0C360.3 319.1 359.7 320.2 361.0 319.4C362.3 318.6 362.5 318.6 364.0 315.0C365.5 311.4 365.7 310.6 367.0 305.0C368.3 299.4 368.1 295.0 369.0 293.0C369.9 291.0 369.6 292.9 370.4 297.0C371.2 301.1 371.1 303.4 372.0 309.0C372.9 314.6 372.9 315.5 374.0 319.0C375.1 322.5 375.1 323.0 376.4 323.0C377.7 323.0 377.6 321.3 379.0 319.0C380.4 316.7 380.6 314.0 382.0 314.0C383.4 314.0 383.3 313.7 384.4 319.0C385.5 324.3 385.4 325.4 386.4 335.0C387.4 344.6 387.4 346.1 388.4 357.0C389.4 367.9 389.5 370.4 390.4 378.0C391.3 385.6 391.2 387.0 392.0 387.0C392.8 387.0 392.8 383.3 393.6 378.0C394.4 372.7 394.3 370.3 395.0 366.0C395.7 361.7 395.4 362.0 396.4 361.0C397.4 360.0 397.6 363.0 399.0 362.0C400.4 361.0 400.5 359.8 402.0 357.0C403.5 354.2 403.5 351.8 405.0 351.0C406.5 350.2 406.5 352.7 408.0 354.0C409.5 355.3 409.5 354.2 411.0 356.0C412.5 357.8 412.5 358.2 414.0 361.0C415.5 363.8 415.5 364.5 417.0 367.0C418.5 369.5 418.6 369.5 420.0 371.0C421.4 372.5 421.1 373.5 422.4 373.0C423.7 372.5 423.6 371.5 425.0 369.0C426.4 366.5 426.2 365.5 428.0 363.0C429.8 360.5 431.0 359.5 432.0 359.0C433.0 358.5 431.2 361.5 432.0 361.0C432.8 360.5 433.5 359.5 435.0 357.0C436.5 354.5 436.5 353.5 438.0 351.0C439.5 348.5 439.5 348.5 441.0 347.0C442.5 345.5 442.7 346.5 444.0 345.0C445.3 343.5 445.1 343.5 446.0 341.0C446.9 338.5 446.8 335.5 447.6 335.0C448.4 334.5 448.3 336.5 449.0 339.0C449.7 341.5 449.6 344.0 450.4 345.0C451.2 346.0 451.2 346.5 452.0 343.0C452.8 339.5 452.8 337.1 453.6 331.0C454.4 324.9 454.3 324.6 455.0 319.0C455.7 313.4 455.6 312.5 456.4 309.0C457.2 305.5 457.1 305.3 458.0 305.0C458.9 304.7 459.0 306.5 460.0 308.0C461.0 309.5 460.7 310.7 462.0 311.0C463.3 311.3 463.5 310.3 465.0 309.0C466.5 307.7 466.5 307.0 468.0 306.0C469.5 305.0 469.7 305.7 471.0 305.0C472.3 304.3 472.0 303.1 473.0 303.4C474.0 303.7 473.7 304.3 475.0 306.0C476.3 307.7 476.2 308.0 478.0 310.0C479.8 312.0 480.0 311.5 482.0 314.0C484.0 316.5 484.0 317.5 486.0 320.0C488.0 322.5 488.0 322.2 490.0 324.0C492.0 325.8 492.0 325.7 494.0 327.0C496.0 328.3 496.0 328.2 498.0 329.0C500.0 329.8 500.0 329.2 502.0 330.0C504.0 330.8 504.5 330.7 506.0 332.0C507.5 333.3 507.0 333.2 508.0 335.0C509.0 336.8 509.0 337.2 510.0 339.0C511.0 340.8 511.0 341.5 512.0 342.0C513.0 342.5 513.0 340.7 514.0 341.0C515.0 341.3 514.7 341.7 516.0 343.0C517.3 344.3 517.5 344.9 519.0 346.0C520.5 347.1 520.6 347.7 522.0 347.4C523.4 347.1 523.3 347.1 524.4 345.0C525.5 342.9 525.5 341.5 526.4 339.0C527.3 336.5 527.6 336.0 528.0 335.0"/>
<path class="cv" stroke="#d95319" d="M340.0 335.0C340.5 336.3 341.0 335.2 342.0 340.0C343.0 344.8 343.0 345.4 344.0 354.0C345.0 362.6 345.0 364.9 346.0 374.0C347.0 383.1 347.1 383.9 348.0 390.0C348.9 396.1 348.6 398.5 349.4 398.0C350.2 397.5 350.2 395.1 351.0 388.0C351.8 380.9 351.6 375.8 352.4 370.0C353.2 364.2 353.1 369.6 354.0 365.0C354.9 360.4 355.0 358.6 356.0 352.0C357.0 345.4 357.0 344.8 358.0 339.0C359.0 333.2 358.7 333.1 360.0 329.0C361.3 324.9 361.5 326.0 363.0 323.0C364.5 320.0 364.5 320.5 366.0 317.0C367.5 313.5 367.7 314.6 369.0 309.0C370.3 303.4 370.1 303.6 371.0 295.0C371.9 286.4 371.7 282.7 372.6 275.0C373.5 267.3 373.4 267.1 374.4 264.6C375.4 262.1 375.4 264.4 376.4 265.0C377.4 265.6 377.2 267.8 378.4 267.0C379.6 266.2 379.7 264.3 381.0 262.0C382.3 259.7 382.4 258.0 383.6 258.0C384.8 258.0 384.6 256.7 385.6 262.0C386.6 267.3 386.7 269.1 387.6 279.0C388.5 288.9 388.3 288.3 389.0 301.0C389.7 313.7 389.7 315.6 390.4 329.0C391.1 342.4 390.9 343.9 391.6 354.0C392.3 364.1 392.3 366.0 393.0 369.0C393.7 372.0 393.6 368.0 394.4 366.0C395.2 364.0 395.1 361.5 396.0 361.0C396.9 360.5 397.0 362.7 398.0 364.0C399.0 365.3 399.0 367.0 400.0 366.0C401.0 365.0 401.0 363.5 402.0 360.0C403.0 356.5 403.0 353.3 404.0 352.0C405.0 350.7 405.0 352.5 406.0 355.0C407.0 357.5 406.7 359.7 408.0 362.0C409.3 364.3 409.5 362.7 411.0 364.0C412.5 365.3 412.5 364.5 414.0 367.0C415.5 369.5 415.6 369.2 417.0 374.0C418.4 378.8 418.4 379.4 419.6 386.0C420.8 392.6 420.6 394.9 421.6 400.0C422.6 405.1 422.6 406.5 423.6 406.0C424.6 405.5 424.5 402.6 425.6 398.0C426.7 393.4 426.6 393.1 428.0 388.0C429.4 382.9 429.5 382.6 431.0 378.0C432.5 373.4 432.7 373.3 434.0 370.0C435.3 366.7 434.7 368.3 436.0 365.0C437.3 361.7 437.5 361.1 439.0 357.0C440.5 352.9 440.6 353.6 442.0 349.0C443.4 344.4 443.3 345.1 444.4 339.0C445.5 332.9 445.5 330.6 446.4 325.0C447.3 319.4 447.2 319.3 448.0 317.0C448.8 314.7 448.8 315.2 449.6 316.0C450.4 316.8 450.3 320.8 451.0 320.0C451.7 319.2 451.6 319.8 452.4 313.0C453.2 306.2 453.2 303.6 454.0 293.0C454.8 282.4 454.8 279.1 455.6 271.0C456.4 262.9 456.1 263.8 457.0 261.0C457.9 258.2 457.8 259.2 459.0 260.0C460.2 260.8 460.3 263.7 461.6 264.0C462.9 264.3 462.6 262.2 464.0 261.0C465.4 259.8 465.6 259.4 467.0 259.4C468.4 259.4 468.4 259.1 469.6 261.0C470.8 262.9 470.6 263.5 471.6 267.0C472.6 270.5 472.6 271.6 473.6 275.0C474.6 278.4 474.6 279.1 475.6 280.6C476.6 282.1 476.6 278.9 477.6 281.0C478.6 283.1 478.5 283.4 479.6 289.0C480.7 294.6 480.8 298.7 482.0 303.0C483.2 307.3 483.3 303.0 484.4 306.0C485.5 309.0 485.4 309.7 486.4 315.0C487.4 320.3 487.4 322.4 488.4 327.0C489.4 331.6 489.2 331.2 490.4 333.0C491.6 334.8 491.8 333.0 493.0 334.0C494.2 335.0 494.0 337.0 495.0 337.0C496.0 337.0 495.7 334.3 497.0 334.0C498.3 333.7 498.7 333.5 500.0 336.0C501.3 338.5 501.1 342.7 502.0 344.0C502.9 345.3 502.8 343.8 503.6 341.0C504.4 338.2 504.1 335.5 505.0 333.0C505.9 330.5 506.2 328.0 507.0 331.0C507.8 334.0 507.5 336.4 508.0 345.0C508.5 353.6 508.4 354.6 509.0 365.0C509.6 375.4 509.7 378.7 510.4 386.0C511.1 393.3 510.9 394.5 511.6 394.0C512.3 393.5 512.3 389.6 513.0 384.0C513.7 378.4 513.7 375.5 514.4 372.0C515.1 368.5 514.9 368.5 515.6 370.0C516.3 371.5 516.3 371.9 517.0 378.0C517.7 384.1 517.6 386.7 518.4 394.0C519.2 401.3 519.2 403.0 520.0 407.0C520.8 411.0 520.8 409.6 521.6 409.6C522.4 409.6 522.3 412.0 523.0 407.0C523.7 402.0 523.7 399.4 524.4 390.0C525.1 380.6 524.9 380.6 525.6 370.0C526.3 359.4 526.4 356.7 527.0 348.0C527.6 339.3 527.7 338.7 528.0 335.6"/>
<path class="cv" stroke="#edb120" d="M340.0 335.0C340.8 336.0 341.5 336.0 343.0 339.0C344.5 342.0 344.5 343.2 346.0 347.0C347.5 350.8 347.7 353.0 349.0 354.0C350.3 355.0 349.7 353.8 351.0 351.0C352.3 348.2 352.2 347.1 354.0 343.0C355.8 338.9 356.0 337.5 358.0 335.0C360.0 332.5 360.0 334.0 362.0 333.0C364.0 332.0 364.2 332.3 366.0 331.0C367.8 329.7 367.7 331.0 369.0 328.0C370.3 325.0 369.7 322.8 371.0 319.0C372.3 315.2 372.5 314.5 374.0 313.0C375.5 311.5 375.2 314.0 377.0 313.0C378.8 312.0 379.0 311.1 381.0 309.0C383.0 306.9 383.5 304.6 385.0 304.6C386.5 304.6 386.0 304.3 387.0 309.0C388.0 313.7 388.0 316.9 389.0 323.0C390.0 329.1 390.0 329.2 391.0 333.0C392.0 336.8 391.7 337.7 393.0 338.0C394.3 338.3 394.5 334.3 396.0 334.0C397.5 333.7 397.7 335.5 399.0 337.0C400.3 338.5 400.0 340.5 401.0 340.0C402.0 339.5 402.0 337.8 403.0 335.0C404.0 332.2 403.7 329.5 405.0 329.0C406.3 328.5 406.5 333.0 408.0 333.0C409.5 333.0 409.5 330.5 411.0 329.0C412.5 327.5 412.5 327.0 414.0 327.0C415.5 327.0 415.5 328.7 417.0 329.0C418.5 329.3 418.7 327.0 420.0 328.0C421.3 329.0 420.9 329.7 422.0 333.0C423.1 336.3 423.1 338.2 424.4 341.0C425.7 343.8 425.6 344.3 427.0 344.0C428.4 343.7 428.7 341.0 430.0 340.0C431.3 339.0 430.5 339.7 432.0 340.0C433.5 340.3 434.0 340.2 436.0 341.0C438.0 341.8 438.0 342.0 440.0 343.0C442.0 344.0 442.0 344.0 444.0 345.0C446.0 346.0 446.0 346.2 448.0 347.0C450.0 347.8 450.2 347.0 452.0 348.0C453.8 349.0 453.7 349.5 455.0 351.0C456.3 352.5 455.7 353.5 457.0 354.0C458.3 354.5 458.2 353.8 460.0 353.0C461.8 352.2 462.0 352.0 464.0 351.0C466.0 350.0 466.0 350.5 468.0 349.0C470.0 347.5 470.0 346.8 472.0 345.0C474.0 343.2 474.2 343.8 476.0 342.0C477.8 340.2 477.7 338.8 479.0 338.0C480.3 337.2 479.8 339.0 481.0 339.0C482.2 339.0 482.3 339.3 483.6 338.0C484.9 336.7 484.6 335.5 486.0 334.0C487.4 332.5 487.5 332.7 489.0 332.0C490.5 331.3 490.2 331.6 492.0 331.4C493.8 331.2 494.0 331.5 496.0 331.4C498.0 331.3 498.0 331.1 500.0 331.0C502.0 330.9 502.1 331.3 504.0 331.0C505.9 330.7 506.2 332.0 507.6 330.0C509.0 328.0 508.6 325.5 509.6 323.0C510.6 320.5 510.6 320.5 511.6 320.0C512.6 319.5 512.5 321.3 513.6 321.0C514.7 320.7 514.6 320.0 516.0 319.0C517.4 318.0 517.6 317.6 519.0 317.0C520.4 316.4 520.3 315.6 521.6 316.6C522.9 317.6 522.9 317.9 524.0 321.0C525.1 324.1 525.0 325.5 526.0 329.0C527.0 332.5 527.5 333.5 528.0 335.0"/>
<path class="cv" stroke="#7e2f8e" d="M340.0 335.0C340.8 335.5 341.5 335.0 343.0 337.0C344.5 339.0 344.5 340.5 346.0 343.0C347.5 345.5 347.5 346.7 349.0 347.0C350.5 347.3 350.2 345.8 352.0 344.0C353.8 342.2 354.0 341.3 356.0 340.0C358.0 338.7 358.0 338.2 360.0 339.0C362.0 339.8 362.2 341.0 364.0 343.0C365.8 345.0 365.6 345.5 367.0 347.0C368.4 348.5 368.3 350.0 369.6 349.0C370.9 348.0 370.6 346.0 372.0 343.0C373.4 340.0 373.5 338.8 375.0 337.0C376.5 335.2 376.5 335.5 378.0 336.0C379.5 336.5 379.5 337.7 381.0 339.0C382.5 340.3 382.5 342.0 384.0 341.0C385.5 340.0 385.7 339.1 387.0 335.0C388.3 330.9 388.0 329.6 389.0 325.0C390.0 320.4 390.0 318.0 391.0 317.0C392.0 316.0 391.7 319.0 393.0 321.0C394.3 323.0 394.2 323.7 396.0 325.0C397.8 326.3 398.2 324.7 400.0 326.0C401.8 327.3 401.2 328.6 403.0 330.0C404.8 331.4 405.0 331.1 407.0 331.4C409.0 331.7 408.7 331.2 411.0 331.0C413.3 330.8 413.5 331.1 416.0 330.6C418.5 330.1 418.5 329.9 421.0 329.0C423.5 328.1 423.2 327.8 426.0 327.0C428.8 326.2 429.5 326.3 432.0 326.0C434.5 325.7 434.0 326.3 436.0 326.0C438.0 325.7 438.0 325.8 440.0 325.0C442.0 324.2 442.2 323.8 444.0 323.0C445.8 322.2 445.5 323.0 447.0 322.0C448.5 321.0 448.7 320.3 450.0 319.0C451.3 317.7 451.0 317.4 452.0 317.0C453.0 316.6 453.0 316.1 454.0 317.4C455.0 318.7 454.7 320.1 456.0 322.0C457.3 323.9 457.5 324.5 459.0 325.0C460.5 325.5 460.5 323.7 462.0 324.0C463.5 324.3 463.5 325.2 465.0 326.0C466.5 326.8 466.5 325.7 468.0 327.0C469.5 328.3 469.5 329.0 471.0 331.0C472.5 333.0 472.5 334.5 474.0 335.0C475.5 335.5 475.5 333.0 477.0 333.0C478.5 333.0 478.5 333.7 480.0 335.0C481.5 336.3 481.5 337.5 483.0 338.0C484.5 338.5 484.5 336.7 486.0 337.0C487.5 337.3 487.5 339.0 489.0 339.0C490.5 339.0 490.2 337.8 492.0 337.0C493.8 336.2 493.7 336.0 496.0 336.0C498.3 336.0 498.7 337.3 501.0 337.0C503.3 336.7 503.3 335.0 505.0 335.0C506.7 335.0 506.4 334.5 507.6 337.0C508.8 339.5 508.5 341.7 509.6 345.0C510.7 348.3 510.8 349.7 512.0 350.0C513.2 350.3 513.1 346.3 514.4 346.0C515.7 345.7 515.6 347.2 517.0 349.0C518.4 350.8 518.5 352.2 520.0 353.0C521.5 353.8 521.7 354.0 523.0 352.0C524.3 350.0 524.0 348.5 525.0 345.0C526.0 341.5 526.2 340.5 527.0 338.0C527.8 335.5 527.7 335.8 528.0 335.0"/>
<path class="cv" stroke="#77ac30" d="M340.0 335.0C340.5 336.5 341.0 336.2 342.0 341.0C343.0 345.8 343.0 346.1 344.0 354.0C345.0 361.9 345.0 363.4 346.0 372.0C347.0 380.6 347.1 382.0 348.0 388.0C348.9 394.0 348.6 396.6 349.4 395.6C350.2 394.6 350.2 391.0 351.0 384.0C351.8 377.0 351.5 373.8 352.4 368.0C353.3 362.2 353.4 366.1 354.4 361.0C355.4 355.9 355.4 353.8 356.4 348.0C357.4 342.2 357.0 341.1 358.4 338.0C359.8 334.9 360.3 336.5 362.0 335.6C363.7 334.7 363.5 335.1 365.0 334.4C366.5 333.7 366.8 335.4 368.0 333.0C369.2 330.6 368.7 332.1 369.6 325.0C370.5 317.9 370.6 315.1 371.6 305.0C372.6 294.9 372.5 290.8 373.6 285.0C374.7 279.2 374.6 283.0 376.0 282.0C377.4 281.0 377.5 282.8 379.0 281.0C380.5 279.2 380.5 277.5 382.0 275.0C383.5 272.5 383.9 270.5 385.0 271.0C386.1 271.5 385.5 270.9 386.4 277.0C387.3 283.1 387.5 285.4 388.4 295.0C389.3 304.6 389.2 305.9 390.0 315.0C390.8 324.1 390.6 325.9 391.6 331.0C392.6 336.1 392.9 334.5 394.0 335.0C395.1 335.5 395.0 332.5 396.0 333.0C397.0 333.5 397.0 335.0 398.0 337.0C399.0 339.0 399.0 340.5 400.0 341.0C401.0 341.5 401.1 342.0 402.0 339.0C402.9 336.0 402.6 331.0 403.6 329.0C404.6 327.0 404.6 329.0 406.0 331.0C407.4 333.0 407.5 336.5 409.0 337.0C410.5 337.5 410.5 334.5 412.0 333.0C413.5 331.5 413.5 330.5 415.0 331.0C416.5 331.5 416.5 331.5 418.0 335.0C419.5 338.5 419.6 339.4 421.0 345.0C422.4 350.6 422.3 352.7 423.6 357.0C424.9 361.3 424.6 362.0 426.0 362.0C427.4 362.0 427.5 359.3 429.0 357.0C430.5 354.7 430.2 353.6 432.0 353.0C433.8 352.4 434.0 354.1 436.0 354.6C438.0 355.1 438.2 355.2 440.0 355.0C441.8 354.8 441.5 353.7 443.0 354.0C444.5 354.3 444.5 354.7 446.0 356.0C447.5 357.3 447.5 357.5 449.0 359.0C450.5 360.5 450.8 360.9 452.0 362.0C453.2 363.1 452.7 363.9 453.6 363.4C454.5 362.9 454.6 362.1 455.6 360.0C456.6 357.9 456.2 356.8 457.6 355.0C459.0 353.2 459.1 354.3 461.0 353.0C462.9 351.7 463.2 351.3 465.0 350.0C466.8 348.7 466.5 349.8 468.0 348.0C469.5 346.2 469.7 345.8 471.0 343.0C472.3 340.2 472.0 339.3 473.0 337.0C474.0 334.7 474.0 334.5 475.0 334.0C476.0 333.5 476.0 334.1 477.0 335.0C478.0 335.9 478.0 337.9 479.0 337.4C480.0 336.9 480.0 335.1 481.0 333.0C482.0 330.9 482.0 329.8 483.0 329.0C484.0 328.2 484.0 329.5 485.0 330.0C486.0 330.5 486.0 332.0 487.0 331.0C488.0 330.0 487.7 327.5 489.0 326.0C490.3 324.5 490.5 324.7 492.0 325.0C493.5 325.3 493.5 326.0 495.0 327.0C496.5 328.0 496.5 328.7 498.0 329.0C499.5 329.3 499.7 328.8 501.0 328.0C502.3 327.2 502.0 325.7 503.0 326.0C504.0 326.3 503.8 328.7 505.0 329.0C506.2 329.3 506.6 329.5 507.6 327.0C508.6 324.5 508.1 322.5 509.0 319.0C509.9 315.5 510.0 314.1 511.0 313.0C512.0 311.9 512.0 313.6 513.0 314.6C514.0 315.6 513.8 317.4 515.0 317.0C516.2 316.6 516.3 314.5 517.6 313.0C518.9 311.5 518.8 311.6 520.0 311.0C521.2 310.4 521.4 309.6 522.4 310.6C523.4 311.6 523.1 310.8 524.0 315.0C524.9 319.2 525.0 321.9 526.0 327.0C527.0 332.1 527.5 333.0 528.0 335.0"/>
<path class="cv" stroke="#4dbeee" d="M340.0 335.0C340.8 333.0 341.5 331.1 343.0 327.0C344.5 322.9 344.5 323.3 346.0 319.0C347.5 314.7 347.7 311.3 349.0 310.0C350.3 308.7 350.0 311.7 351.0 314.0C352.0 316.3 351.7 316.2 353.0 319.0C354.3 321.8 354.5 321.5 356.0 325.0C357.5 328.5 357.5 329.7 359.0 333.0C360.5 336.3 360.5 336.2 362.0 338.0C363.5 339.8 363.5 338.7 365.0 340.0C366.5 341.3 366.5 340.2 368.0 343.0C369.5 345.8 369.5 347.7 371.0 351.0C372.5 354.3 372.5 354.5 374.0 356.0C375.5 357.5 375.5 357.0 377.0 357.0C378.5 357.0 378.5 356.0 380.0 356.0C381.5 356.0 381.6 357.5 383.0 357.0C384.4 356.5 384.4 357.5 385.6 354.0C386.8 350.5 386.6 348.8 387.6 343.0C388.6 337.2 388.5 335.3 389.6 331.0C390.7 326.7 390.6 327.0 392.0 326.0C393.4 325.0 393.5 327.0 395.0 327.0C396.5 327.0 396.5 326.0 398.0 326.0C399.5 326.0 399.5 326.5 401.0 327.0C402.5 327.5 402.5 328.3 404.0 328.0C405.5 327.7 405.2 327.3 407.0 326.0C408.8 324.7 409.0 325.0 411.0 323.0C413.0 321.0 413.0 320.8 415.0 318.0C417.0 315.2 417.1 314.4 419.0 312.0C420.9 309.6 420.7 308.3 422.4 308.6C424.1 308.9 423.9 311.1 425.6 313.0C427.3 314.9 427.4 315.0 429.0 316.0C430.6 317.0 430.5 315.7 432.0 317.0C433.5 318.3 433.5 319.2 435.0 321.0C436.5 322.8 436.2 323.0 438.0 324.0C439.8 325.0 440.2 323.7 442.0 325.0C443.8 326.3 443.7 327.0 445.0 329.0C446.3 331.0 446.0 331.0 447.0 333.0C448.0 335.0 448.1 337.5 449.0 337.0C449.9 336.5 449.6 332.8 450.4 331.0C451.2 329.2 451.2 328.0 452.0 330.0C452.8 332.0 452.7 333.7 453.6 339.0C454.5 344.3 454.6 346.7 455.6 351.0C456.6 355.3 456.5 355.2 457.6 356.0C458.7 356.8 458.4 354.8 460.0 354.0C461.6 353.2 462.0 352.7 464.0 353.0C466.0 353.3 466.0 354.0 468.0 355.0C470.0 356.0 470.0 357.3 472.0 357.0C474.0 356.7 473.7 356.0 476.0 354.0C478.3 352.0 478.7 351.3 481.0 349.0C483.3 346.7 483.0 346.5 485.0 345.0C487.0 343.5 487.0 344.0 489.0 343.0C491.0 342.0 491.0 341.8 493.0 341.0C495.0 340.2 494.7 340.8 497.0 340.0C499.3 339.2 499.5 339.0 502.0 338.0C504.5 337.0 505.2 338.3 507.0 336.0C508.8 333.7 508.0 331.8 509.0 329.0C510.0 326.2 509.8 325.8 511.0 325.0C512.2 324.2 512.3 326.3 513.6 326.0C514.9 325.7 514.6 325.3 516.0 324.0C517.4 322.7 517.5 321.9 519.0 321.0C520.5 320.1 520.7 319.8 522.0 320.6C523.3 321.4 523.0 321.6 524.0 324.0C525.0 326.4 525.0 327.2 526.0 330.0C527.0 332.8 527.5 333.7 528.0 335.0"/>
<line x1="338.9" y1="258.50" x2="526.0" y2="258.50" stroke="#3a3a3a" stroke-width="1.2" stroke-dasharray="8.9 5.65"/>
<line x1="338.9" y1="409.50" x2="526.0" y2="409.50" stroke="#3a3a3a" stroke-width="1.2" stroke-dasharray="8.9 5.65"/>
<path d="M339.2 255.2 V413.5 H541.0" fill="none" stroke="#626262" stroke-width="1.2"/>
<line x1="339.2" y1="258.8" x2="341.4" y2="258.8" stroke="#787878" stroke-width="0.9"/>
<text class="tk" x="336.0" y="264.8" text-anchor="end">1</text>
<line x1="339.2" y1="296.5" x2="341.4" y2="296.5" stroke="#787878" stroke-width="0.9"/>
<text class="tk" x="336.0" y="303.0" text-anchor="end">0.5</text>
<line x1="339.2" y1="334.2" x2="341.4" y2="334.2" stroke="#787878" stroke-width="0.9"/>
<text class="tk" x="335.5" y="340.4" text-anchor="end">0</text>
<line x1="339.2" y1="372.0" x2="341.4" y2="372.0" stroke="#787878" stroke-width="0.9"/>
<text class="tk" x="339.4" y="377.9" text-anchor="end">−0.5</text>
<line x1="339.2" y1="409.7" x2="341.4" y2="409.7" stroke="#787878" stroke-width="0.9"/>
<text class="tk" x="337.9" y="415.7" text-anchor="end">−1</text>
<line x1="339.2" y1="413.5" x2="339.2" y2="411.3" stroke="#787878" stroke-width="0.9"/>
<text class="tk" x="338.6" y="430.0" text-anchor="middle">0</text>
<line x1="389.5" y1="413.5" x2="389.5" y2="411.3" stroke="#787878" stroke-width="0.9"/>
<text class="tk" x="388.9" y="430.0" text-anchor="middle">1</text>
<line x1="439.8" y1="413.5" x2="439.8" y2="411.3" stroke="#787878" stroke-width="0.9"/>
<text class="tk" x="439.2" y="430.0" text-anchor="middle">2</text>
<line x1="490.1" y1="413.5" x2="490.1" y2="411.3" stroke="#787878" stroke-width="0.9"/>
<text class="tk" x="489.5" y="430.0" text-anchor="middle">3</text>
<line x1="540.4" y1="413.5" x2="540.4" y2="411.3" stroke="#787878" stroke-width="0.9"/>
<text class="tk" x="539.8" y="430.0" text-anchor="middle">4</text>
</g>
<g id="L3">
<polyline class="cv" stroke="#0072bd" points="67.0,524.0 69.0,519.0 71.0,516.6 73.0,515.4 75.6,519.0 78.4,523.0 82.0,522.0 86.0,520.6 90.0,517.0 93.0,513.0 95.0,512.6 98.0,514.0 101.0,511.0 104.0,507.0 107.0,503.0 109.0,499.0 110.4,500.0 111.6,497.4 113.0,502.0 114.4,509.0 116.0,517.0 117.6,522.0 120.0,524.0 124.0,527.0 129.0,530.0 134.0,532.0 139.0,535.0 143.0,538.0 147.0,543.0 151.0,547.0 155.0,549.0 158.0,550.0 160.0,550.0 163.0,550.0 166.0,548.0 169.0,545.0 171.0,540.0 174.0,538.0 177.0,535.0 180.0,532.0 183.0,531.4 186.0,532.0 189.6,531.4 192.0,534.0 195.0,536.6 199.0,537.4 203.0,536.6 207.0,534.0 211.0,530.0 215.0,525.0 219.0,522.0 223.0,520.0 227.0,519.4 232.0,521.0 237.0,523.0 242.0,524.6 246.0,527.0 249.0,530.6 252.0,533.0 256.0,532.6 260.0,532.6 263.0,531.4 264.6,529.4 263.6,528.0"/>
<polyline class="cv" stroke="#d95319" points="67.0,565.0 67.6,579.0 69.0,591.0 71.0,598.0 73.0,599.4 74.4,593.0 76.0,581.0 77.6,571.0 80.0,569.0 82.0,567.0 85.0,564.0 88.0,561.0 91.0,555.0 94.0,545.0 97.0,535.0 100.0,530.0 103.0,526.0 106.0,522.0 109.0,518.0 111.0,516.0 112.4,520.0 113.6,531.0 115.0,545.0 116.4,555.0 119.0,558.0 124.0,561.0 130.0,565.0 136.0,569.0 141.0,575.0 145.0,583.0 148.0,593.0 151.0,601.0 154.0,603.4 158.0,604.0 160.0,603.8 166.0,603.4 170.0,604.0 172.0,602.0 175.0,597.0 178.0,594.0 181.0,587.0 184.0,577.0 187.0,563.0 190.0,547.0 193.0,537.0 196.0,530.0 200.0,523.0 203.0,518.0 205.6,515.4 208.0,517.4 211.0,520.0 214.0,523.0 217.0,526.0 219.6,529.0 221.0,537.0 223.0,544.0 225.0,548.0 229.0,549.0 233.0,551.0 237.0,550.6 241.0,548.6 244.0,545.0 245.6,544.6 247.0,551.0 249.0,562.0 251.0,567.4 254.0,568.6 257.0,570.0 260.0,572.0 261.6,574.0 263.0,569.0 264.4,559.0 265.2,552.0"/>
<polyline class="cv" stroke="#edb120" points="67.0,530.0 68.4,539.0 70.0,544.6 72.4,546.0 74.4,543.0 76.0,538.0 78.0,534.0 81.0,532.0 86.0,530.0 91.0,528.0 95.0,524.0 98.0,520.0 101.0,517.0 105.0,515.4 109.0,515.0 111.0,517.0 112.4,520.0 114.0,526.0 117.0,531.0 122.0,532.0 128.0,533.0 134.0,535.0 140.0,537.0 144.0,539.0 148.0,542.0 152.0,544.0 156.0,543.0 160.0,542.0 165.0,541.0 169.0,540.0 171.0,539.0 174.0,537.4 178.0,535.0 182.0,532.0 186.0,528.0 189.0,525.0 192.0,523.6 196.0,523.0 200.0,523.6 204.0,526.0 208.0,529.0 212.0,532.0 216.0,535.0 220.0,538.6 223.0,543.0 226.0,544.6 230.0,545.4 234.0,546.6 238.0,547.4 242.0,548.6 245.0,546.0 246.4,548.0 249.0,553.0 251.0,555.4 254.0,554.0 258.0,551.0 262.0,547.0 264.0,543.0 265.0,539.0"/>
<polyline class="cv" stroke="#7e2f8e" points="67.0,530.0 70.0,532.0 74.0,533.0 78.0,532.4 82.0,533.0 88.0,534.0 94.0,535.0 100.0,534.6 106.0,534.6 112.0,535.0 117.0,535.0 122.0,533.6 130.0,533.0 138.0,532.6 146.0,532.0 154.0,531.4 160.0,530.0 166.0,528.6 172.0,526.6 178.0,524.6 184.0,522.0 190.0,519.0 196.0,517.0 202.0,516.0 208.0,515.4 214.0,516.0 220.0,517.0 226.0,518.0 232.0,519.0 238.0,520.0 242.0,520.6 246.0,520.6 249.0,522.0 253.0,524.0 257.0,526.0 261.0,528.0 264.4,528.6"/>
<polyline class="cv" stroke="#77ac30" points="67.0,530.0 69.0,535.0 72.0,540.0 75.0,542.6 80.0,542.4 86.0,542.2 92.0,541.6 96.0,540.0 99.0,535.0 103.0,528.0 107.0,522.0 110.0,518.0 113.0,515.4 118.0,514.6 126.0,514.4 134.0,514.4 142.0,514.4 149.0,514.4 154.0,517.0 160.0,520.6 166.0,524.0 172.0,528.0 178.0,532.0 184.0,535.0 190.0,537.4 196.0,539.4 202.0,541.0 208.0,542.0 214.0,542.4 220.0,542.0 226.0,540.6 232.0,539.0 238.0,538.0 244.0,537.0 248.0,536.0 252.0,534.0 256.0,532.0 260.0,530.6 264.4,528.6"/>
<polyline class="cv" stroke="#4dbeee" points="67.0,528.0 70.0,525.0 74.0,523.4 79.0,523.0 84.0,523.0 89.0,523.4 94.0,524.0 99.0,527.0 103.0,530.0 107.0,532.6 111.0,534.0 115.0,534.6 120.0,534.0 126.0,533.0 132.0,532.0 137.0,530.0 142.0,528.0 148.0,524.6 154.0,521.0 160.0,519.0 166.0,517.0 172.0,515.4 178.0,514.6 184.0,514.4 189.0,515.0 193.0,517.0 198.0,520.0 203.0,522.6 208.0,525.0 213.0,528.0 218.0,530.0 224.0,531.4 230.0,532.0 236.0,532.4 242.0,533.0 248.0,533.0 254.0,532.0 260.0,530.0 264.4,528.6"/>
<line x1="66.5" y1="452.50" x2="265.4" y2="452.50" stroke="#3a3a3a" stroke-width="1.2" stroke-dasharray="8.9 5.65"/>
<line x1="66.5" y1="603.50" x2="265.4" y2="603.50" stroke="#3a3a3a" stroke-width="1.2" stroke-dasharray="8.9 5.65"/>
<path d="M66.8 449.1 V607.3 H267.9" fill="none" stroke="#787878" stroke-width="1.5"/>
<line x1="66.8" y1="452.9" x2="69.0" y2="452.9" stroke="#787878" stroke-width="0.9"/>
<text class="tk" x="63.6" y="458.9" text-anchor="end">1</text>
<line x1="66.8" y1="490.5" x2="69.0" y2="490.5" stroke="#787878" stroke-width="0.9"/>
<text class="tk" x="63.6" y="497.0" text-anchor="end">0.5</text>
<line x1="66.8" y1="528.2" x2="69.0" y2="528.2" stroke="#787878" stroke-width="0.9"/>
<text class="tk" x="63.1" y="534.4" text-anchor="end">0</text>
<line x1="66.8" y1="565.8" x2="69.0" y2="565.8" stroke="#787878" stroke-width="0.9"/>
<text class="tk" x="67.0" y="571.7" text-anchor="end">−0.5</text>
<line x1="66.8" y1="603.5" x2="69.0" y2="603.5" stroke="#787878" stroke-width="0.9"/>
<text class="tk" x="65.5" y="609.5" text-anchor="end">−1</text>
<line x1="66.8" y1="607.3" x2="66.8" y2="605.0999999999999" stroke="#787878" stroke-width="0.9"/>
<text class="tk" x="66.2" y="623.8" text-anchor="middle">0</text>
<line x1="124.4" y1="607.3" x2="124.4" y2="605.0999999999999" stroke="#787878" stroke-width="0.9"/>
<text class="tk" x="123.8" y="623.8" text-anchor="middle">1</text>
<line x1="182.0" y1="607.3" x2="182.0" y2="605.0999999999999" stroke="#787878" stroke-width="0.9"/>
<text class="tk" x="181.4" y="623.8" text-anchor="middle">2</text>
<line x1="239.6" y1="607.3" x2="239.6" y2="605.0999999999999" stroke="#787878" stroke-width="0.9"/>
<text class="tk" x="239.0" y="623.8" text-anchor="middle">3</text>
</g>
<g id="R3">
<path class="cv" stroke="#0072bd" d="M340.4 529.0C341.3 528.7 342.3 529.3 344.0 528.0C345.7 526.7 345.5 526.2 347.0 524.0C348.5 521.8 348.7 520.7 350.0 519.4C351.3 518.1 350.7 518.5 352.0 519.0C353.3 519.5 353.5 520.6 355.0 521.4C356.5 522.2 356.5 521.5 358.0 522.0C359.5 522.5 359.5 523.2 361.0 523.4C362.5 523.6 362.2 523.7 364.0 522.6C365.8 521.5 366.2 520.8 368.0 519.0C369.8 517.2 369.2 516.4 371.0 515.4C372.8 514.4 373.0 516.4 375.0 515.0C377.0 513.6 377.0 512.5 379.0 510.0C381.0 507.5 381.2 507.2 383.0 505.0C384.8 502.8 384.8 502.2 386.0 501.4C387.2 500.6 386.7 500.8 387.6 502.0C388.5 503.2 388.7 503.2 389.6 506.0C390.5 508.8 390.3 509.5 391.0 513.0C391.7 516.5 391.4 517.2 392.4 520.0C393.4 522.8 393.6 522.5 395.0 524.0C396.4 525.5 396.5 524.7 398.0 526.0C399.5 527.3 399.5 528.0 401.0 529.0C402.5 530.0 402.6 530.0 404.0 530.0C405.4 530.0 405.1 528.2 406.4 529.0C407.7 529.8 407.6 531.5 409.0 533.0C410.4 534.5 410.5 534.2 412.0 535.0C413.5 535.8 413.5 535.0 415.0 536.0C416.5 537.0 416.5 537.2 418.0 539.0C419.5 540.8 419.2 540.7 421.0 543.0C422.8 545.3 423.2 546.9 425.0 548.0C426.8 549.1 426.5 547.0 428.0 547.4C429.5 547.8 429.2 548.9 431.0 549.4C432.8 549.9 433.2 550.3 435.0 549.4C436.8 548.5 436.5 547.9 438.0 546.0C439.5 544.1 439.5 544.0 441.0 542.0C442.5 540.0 442.5 539.5 444.0 538.0C445.5 536.5 445.5 536.8 447.0 536.0C448.5 535.2 448.5 535.8 450.0 535.0C451.5 534.2 451.6 533.9 453.0 533.0C454.4 532.1 454.3 531.7 455.6 531.4C456.9 531.1 456.6 531.1 458.0 532.0C459.4 532.9 459.5 533.6 461.0 535.0C462.5 536.4 462.2 536.8 464.0 537.4C465.8 538.0 466.0 537.9 468.0 537.4C470.0 536.9 470.0 536.8 472.0 535.4C474.0 534.0 474.0 533.9 476.0 532.0C478.0 530.1 478.2 530.0 480.0 528.0C481.8 526.0 481.5 525.5 483.0 524.0C484.5 522.5 484.2 522.8 486.0 522.0C487.8 521.2 488.0 521.2 490.0 521.0C492.0 520.8 492.0 520.9 494.0 521.4C496.0 521.9 496.0 522.1 498.0 523.0C500.0 523.9 500.2 524.1 502.0 525.0C503.8 525.9 503.5 526.3 505.0 526.6C506.5 526.9 506.5 525.1 508.0 526.0C509.5 526.9 509.6 528.3 511.0 530.0C512.4 531.7 512.3 532.4 513.6 532.6C514.9 532.8 514.8 530.9 516.0 530.6C517.2 530.3 517.1 530.8 518.4 531.4C519.7 532.0 519.6 532.8 521.0 533.0C522.4 533.2 522.5 532.8 524.0 532.0C525.5 531.2 525.6 530.8 527.0 530.0C528.4 529.2 528.8 529.3 529.4 529.0"/>
<path class="cv" stroke="#d95319" d="M340.4 565.0C341.1 565.3 341.8 564.7 343.0 566.0C344.2 567.3 344.0 566.7 345.0 570.0C346.0 573.3 346.0 574.2 347.0 579.0C348.0 583.8 348.0 585.3 349.0 589.0C350.0 592.7 350.0 594.1 351.0 593.6C352.0 593.1 351.7 590.2 353.0 587.0C354.3 583.8 354.5 584.3 356.0 581.0C357.5 577.7 357.5 577.3 359.0 574.0C360.5 570.7 360.2 571.0 362.0 568.0C363.8 565.0 364.2 564.8 366.0 562.0C367.8 559.2 367.5 560.8 369.0 557.0C370.5 553.2 370.5 551.8 372.0 547.0C373.5 542.2 373.2 542.3 375.0 538.0C376.8 533.7 377.0 533.5 379.0 530.0C381.0 526.5 381.2 526.2 383.0 524.0C384.8 521.8 384.7 521.4 386.0 521.4C387.3 521.4 387.0 521.1 388.0 524.0C389.0 526.9 389.0 527.2 390.0 533.0C391.0 538.8 391.0 540.9 392.0 547.0C393.0 553.1 392.7 553.9 394.0 557.0C395.3 560.1 395.5 557.6 397.0 559.4C398.5 561.2 398.5 562.6 400.0 564.0C401.5 565.4 401.6 565.5 403.0 565.0C404.4 564.5 404.3 561.7 405.6 562.0C406.9 562.3 406.6 564.0 408.0 566.0C409.4 568.0 409.5 568.7 411.0 570.0C412.5 571.3 412.5 568.7 414.0 571.0C415.5 573.3 415.5 574.4 417.0 579.0C418.5 583.6 418.5 584.2 420.0 589.0C421.5 593.8 421.7 594.9 423.0 598.0C424.3 601.1 423.7 600.2 425.0 601.4C426.3 602.6 426.5 602.2 428.0 602.6C429.5 603.0 429.0 602.8 431.0 603.0C433.0 603.2 433.7 603.5 436.0 603.4C438.3 603.3 438.2 603.1 440.0 602.6C441.8 602.1 441.7 602.3 443.0 601.4C444.3 600.5 444.0 600.9 445.0 599.0C446.0 597.1 446.0 596.8 447.0 594.0C448.0 591.2 448.0 590.5 449.0 588.0C450.0 585.5 450.0 585.8 451.0 584.0C452.0 582.2 452.0 583.8 453.0 581.0C454.0 578.2 454.0 578.1 455.0 573.0C456.0 567.9 456.0 567.1 457.0 561.0C458.0 554.9 458.0 554.1 459.0 549.0C460.0 543.9 459.7 545.1 461.0 541.0C462.3 536.9 462.5 537.1 464.0 533.0C465.5 528.9 465.5 528.3 467.0 525.0C468.5 521.7 468.7 521.5 470.0 520.0C471.3 518.5 471.0 518.8 472.0 519.0C473.0 519.2 472.7 519.3 474.0 520.6C475.3 521.9 475.5 522.1 477.0 524.0C478.5 525.9 478.5 525.7 480.0 528.0C481.5 530.3 481.5 530.6 483.0 533.0C484.5 535.4 484.7 535.4 486.0 537.4C487.3 539.4 487.0 538.8 488.0 541.0C489.0 543.2 489.0 544.0 490.0 546.0C491.0 548.0 490.7 547.7 492.0 549.0C493.3 550.3 493.5 550.0 495.0 551.0C496.5 552.0 496.7 553.3 498.0 553.0C499.3 552.7 499.0 551.0 500.0 550.0C501.0 549.0 501.0 548.0 502.0 549.0C503.0 550.0 503.0 554.0 504.0 554.0C505.0 554.0 505.0 550.7 506.0 549.0C507.0 547.3 507.1 546.4 508.0 547.4C508.9 548.4 508.8 549.3 509.6 553.0C510.4 556.7 510.1 558.7 511.0 562.0C511.9 565.3 512.0 566.5 513.0 566.0C514.0 565.5 514.1 562.3 515.0 560.0C515.9 557.7 515.6 556.5 516.4 557.0C517.2 557.5 517.1 559.0 518.0 562.0C518.9 565.0 519.0 566.3 520.0 569.0C521.0 571.7 521.0 571.3 522.0 572.6C523.0 573.9 523.1 574.9 524.0 574.0C524.9 573.1 524.8 572.3 525.6 569.0C526.4 565.7 526.3 564.5 527.0 561.0C527.7 557.5 527.8 557.3 528.4 555.0C529.0 552.7 529.1 552.8 529.4 552.0"/>
<path class="cv" stroke="#edb120" d="M340.4 533.0C341.1 533.1 341.6 532.4 343.0 533.4C344.4 534.4 344.5 534.8 346.0 537.0C347.5 539.2 347.7 540.1 349.0 542.0C350.3 543.9 350.0 544.4 351.0 544.4C352.0 544.4 351.7 543.6 353.0 542.0C354.3 540.4 354.2 540.0 356.0 538.0C357.8 536.0 358.0 535.8 360.0 534.0C362.0 532.2 362.0 532.5 364.0 531.0C366.0 529.5 366.2 529.8 368.0 528.0C369.8 526.2 369.5 526.0 371.0 524.0C372.5 522.0 372.2 521.7 374.0 520.0C375.8 518.3 376.0 518.3 378.0 517.4C380.0 516.5 380.0 517.0 382.0 516.6C384.0 516.2 384.5 515.4 386.0 516.0C387.5 516.6 387.0 516.7 388.0 519.0C389.0 521.3 388.7 522.2 390.0 525.0C391.3 527.8 391.2 528.2 393.0 530.0C394.8 531.8 395.0 530.7 397.0 532.0C399.0 533.3 399.0 534.2 401.0 535.0C403.0 535.8 403.0 534.7 405.0 535.0C407.0 535.3 407.0 535.5 409.0 536.0C411.0 536.5 411.0 536.2 413.0 537.0C415.0 537.8 415.0 537.7 417.0 539.0C419.0 540.3 419.0 540.7 421.0 542.0C423.0 543.3 422.7 543.7 425.0 544.0C427.3 544.3 428.2 543.5 430.0 543.0C431.8 542.5 430.2 542.6 432.0 542.0C433.8 541.4 434.7 541.4 437.0 540.6C439.3 539.8 439.0 539.9 441.0 539.0C443.0 538.1 443.0 538.3 445.0 537.0C447.0 535.7 447.2 535.3 449.0 534.0C450.8 532.7 450.5 533.3 452.0 532.0C453.5 530.7 453.5 530.5 455.0 529.0C456.5 527.5 456.5 527.1 458.0 526.0C459.5 524.9 459.2 525.0 461.0 524.6C462.8 524.2 463.0 524.5 465.0 524.6C467.0 524.7 467.0 524.4 469.0 525.0C471.0 525.6 471.0 525.7 473.0 527.0C475.0 528.3 475.0 528.2 477.0 530.0C479.0 531.8 479.0 531.8 481.0 534.0C483.0 536.2 483.0 536.3 485.0 538.6C487.0 540.9 487.0 541.3 489.0 543.0C491.0 544.7 491.0 544.4 493.0 545.4C495.0 546.4 495.2 545.8 497.0 547.0C498.8 548.2 498.7 549.7 500.0 550.0C501.3 550.3 500.9 548.0 502.0 548.0C503.1 548.0 503.3 549.8 504.4 550.0C505.5 550.2 505.4 549.3 506.4 548.6C507.4 547.9 507.4 546.8 508.4 547.4C509.4 548.0 509.4 549.3 510.4 551.0C511.4 552.7 511.2 554.0 512.4 554.0C513.6 554.0 513.8 552.3 515.0 551.0C516.2 549.7 515.8 548.9 517.0 549.0C518.2 549.1 518.3 550.6 519.6 551.4C520.9 552.2 520.8 552.4 522.0 552.0C523.2 551.6 523.3 551.8 524.4 550.0C525.5 548.2 525.5 547.3 526.4 545.0C527.3 542.7 527.2 542.4 528.0 541.0C528.8 539.6 529.0 539.8 529.4 539.4"/>
<path class="cv" stroke="#7e2f8e" d="M340.4 529.0C341.6 529.1 342.8 528.8 345.0 529.4C347.2 530.0 346.7 530.6 349.0 531.4C351.3 532.2 351.2 532.2 354.0 532.6C356.8 533.0 357.0 532.6 360.0 533.0C363.0 533.4 363.0 533.5 366.0 534.0C369.0 534.5 369.0 534.8 372.0 535.0C375.0 535.2 375.0 534.6 378.0 534.6C381.0 534.6 381.0 534.8 384.0 535.0C387.0 535.2 387.5 535.4 390.0 535.4C392.5 535.4 391.5 535.5 394.0 535.0C396.5 534.5 397.0 534.0 400.0 533.4C403.0 532.8 403.0 532.8 406.0 532.6C409.0 532.4 409.0 532.6 412.0 532.6C415.0 532.6 415.0 532.8 418.0 532.6C421.0 532.4 421.0 532.4 424.0 532.0C427.0 531.6 428.0 531.4 430.0 531.0C432.0 530.6 430.0 531.1 432.0 530.6C434.0 530.1 435.0 530.0 438.0 529.0C441.0 528.0 441.0 527.9 444.0 526.6C447.0 525.3 447.0 525.3 450.0 524.0C453.0 522.7 453.0 522.7 456.0 521.4C459.0 520.1 459.0 520.0 462.0 519.0C465.0 518.0 465.0 518.0 468.0 517.4C471.0 516.8 471.0 516.7 474.0 516.6C477.0 516.5 477.0 516.6 480.0 517.0C483.0 517.4 483.0 517.4 486.0 518.0C489.0 518.6 489.0 518.7 492.0 519.4C495.0 520.1 495.2 520.1 498.0 520.6C500.8 521.1 500.5 521.1 503.0 521.4C505.5 521.7 505.7 521.1 508.0 521.6C510.3 522.1 510.0 522.5 512.0 523.4C514.0 524.3 514.0 524.1 516.0 525.0C518.0 525.9 518.0 526.1 520.0 527.0C522.0 527.9 521.6 528.1 524.0 528.6C526.4 529.1 528.0 528.9 529.4 529.0"/>
<path class="cv" stroke="#77ac30" d="M340.4 529.0C341.3 529.1 342.3 528.4 344.0 529.4C345.7 530.4 345.5 531.1 347.0 533.0C348.5 534.9 348.5 535.2 350.0 537.0C351.5 538.8 351.2 538.6 353.0 540.0C354.8 541.4 354.7 541.7 357.0 542.4C359.3 543.1 359.5 542.5 362.0 542.6C364.5 542.7 364.7 542.8 367.0 542.6C369.3 542.4 369.2 543.2 371.0 542.0C372.8 540.8 372.5 540.3 374.0 538.0C375.5 535.7 375.2 535.5 377.0 533.0C378.8 530.5 379.0 530.5 381.0 528.0C383.0 525.5 383.2 525.3 385.0 523.0C386.8 520.7 386.5 520.6 388.0 519.0C389.5 517.4 389.2 517.5 391.0 516.6C392.8 515.7 392.7 515.9 395.0 515.6C397.3 515.3 397.2 515.3 400.0 515.4C402.8 515.5 403.0 516.0 406.0 516.0C409.0 516.0 409.0 515.7 412.0 515.4C415.0 515.1 415.2 514.8 418.0 515.0C420.8 515.2 420.7 515.0 423.0 516.0C425.3 517.0 425.0 517.6 427.0 519.0C429.0 520.4 428.2 519.9 431.0 521.4C433.8 522.9 434.7 523.0 438.0 525.0C441.3 527.0 441.0 527.4 444.0 529.4C447.0 531.4 447.0 531.3 450.0 533.0C453.0 534.7 453.0 534.6 456.0 536.0C459.0 537.4 459.0 537.4 462.0 538.6C465.0 539.8 465.0 539.7 468.0 540.6C471.0 541.5 471.0 541.5 474.0 542.0C477.0 542.5 477.0 542.4 480.0 542.4C483.0 542.4 483.0 542.4 486.0 542.0C489.0 541.6 489.0 541.7 492.0 541.0C495.0 540.3 495.0 540.1 498.0 539.4C501.0 538.7 501.2 538.9 504.0 538.4C506.8 537.9 506.5 538.3 509.0 537.4C511.5 536.5 511.5 536.0 514.0 535.0C516.5 534.0 516.5 534.3 519.0 533.4C521.5 532.5 521.4 532.5 524.0 531.4C526.6 530.3 528.0 529.6 529.4 529.0"/>
<path class="cv" stroke="#4dbeee" d="M340.4 529.0C341.6 528.9 342.6 529.4 345.0 528.6C347.4 527.8 347.5 527.2 350.0 526.0C352.5 524.8 352.5 524.7 355.0 524.0C357.5 523.3 357.5 523.4 360.0 523.4C362.5 523.4 362.5 523.6 365.0 524.0C367.5 524.4 367.5 524.0 370.0 525.0C372.5 526.0 372.5 526.5 375.0 528.0C377.5 529.5 377.5 529.5 380.0 531.0C382.5 532.5 382.7 533.0 385.0 534.0C387.3 535.0 386.7 534.8 389.0 535.0C391.3 535.2 391.2 535.1 394.0 534.6C396.8 534.1 397.0 533.7 400.0 533.0C403.0 532.3 403.0 532.5 406.0 532.0C409.0 531.5 409.0 532.0 412.0 531.0C415.0 530.0 415.0 529.5 418.0 528.0C421.0 526.5 421.0 526.5 424.0 525.0C427.0 523.5 428.0 523.4 430.0 522.0C432.0 520.6 430.0 520.7 432.0 519.4C434.0 518.1 435.0 518.0 438.0 517.0C441.0 516.0 441.0 516.1 444.0 515.6C447.0 515.1 447.0 515.1 450.0 515.0C453.0 514.9 453.5 514.8 456.0 515.4C458.5 516.0 458.0 516.2 460.0 517.4C462.0 518.6 461.7 518.6 464.0 520.0C466.3 521.4 466.5 521.5 469.0 523.0C471.5 524.5 471.5 524.6 474.0 526.0C476.5 527.4 476.5 527.4 479.0 528.6C481.5 529.8 481.2 529.7 484.0 530.6C486.8 531.5 487.0 531.4 490.0 532.0C493.0 532.6 493.0 532.6 496.0 533.0C499.0 533.4 499.0 533.3 502.0 533.4C505.0 533.5 505.0 533.5 508.0 533.4C511.0 533.3 511.0 533.5 514.0 533.0C517.0 532.5 517.2 532.2 520.0 531.4C522.8 530.6 522.6 530.7 525.0 530.0C527.4 529.3 528.3 529.0 529.4 528.6"/>
<line x1="340.3" y1="453.50" x2="527.0" y2="453.50" stroke="#3a3a3a" stroke-width="1.2" stroke-dasharray="8.9 5.65"/>
<line x1="340.3" y1="604.50" x2="527.0" y2="604.50" stroke="#3a3a3a" stroke-width="1.2" stroke-dasharray="8.9 5.65"/>
<path d="M340.6 449.8 V608.4 H542.0" fill="none" stroke="#626262" stroke-width="1.2"/>
<line x1="340.6" y1="453.4" x2="342.8" y2="453.4" stroke="#787878" stroke-width="0.9"/>
<text class="tk" x="337.4" y="459.4" text-anchor="end">1</text>
<line x1="340.6" y1="491.2" x2="342.8" y2="491.2" stroke="#787878" stroke-width="0.9"/>
<text class="tk" x="337.4" y="497.7" text-anchor="end">0.5</text>
<line x1="340.6" y1="528.9" x2="342.8" y2="528.9" stroke="#787878" stroke-width="0.9"/>
<text class="tk" x="336.9" y="535.1" text-anchor="end">0</text>
<line x1="340.6" y1="566.7" x2="342.8" y2="566.7" stroke="#787878" stroke-width="0.9"/>
<text class="tk" x="340.8" y="572.6" text-anchor="end">−0.5</text>
<line x1="340.6" y1="604.4" x2="342.8" y2="604.4" stroke="#787878" stroke-width="0.9"/>
<text class="tk" x="339.3" y="610.4" text-anchor="end">−1</text>
<line x1="340.6" y1="608.4" x2="340.6" y2="606.1999999999999" stroke="#787878" stroke-width="0.9"/>
<text class="tk" x="340.0" y="624.9" text-anchor="middle">0</text>
<line x1="390.8" y1="608.4" x2="390.8" y2="606.1999999999999" stroke="#787878" stroke-width="0.9"/>
<text class="tk" x="390.2" y="624.9" text-anchor="middle">1</text>
<line x1="441.0" y1="608.4" x2="441.0" y2="606.1999999999999" stroke="#787878" stroke-width="0.9"/>
<text class="tk" x="440.4" y="624.9" text-anchor="middle">2</text>
<line x1="491.2" y1="608.4" x2="491.2" y2="606.1999999999999" stroke="#787878" stroke-width="0.9"/>
<text class="tk" x="490.6" y="624.9" text-anchor="middle">3</text>
<line x1="541.4" y1="608.4" x2="541.4" y2="606.1999999999999" stroke="#787878" stroke-width="0.9"/>
<text class="tk" x="540.8" y="624.9" text-anchor="middle">4</text>
</g>
<line x1="8.3" y1="137.1" x2="45.6" y2="137.1" stroke="#151515" stroke-width="1.25"/>
<text class="q" transform="translate(26.7 128.8) scale(1.2 1)" text-anchor="middle">q</text>
<text class="dt" transform="translate(27.5 120.1) scale(1.0 1)" text-anchor="middle">.</text>
<text class="q" transform="translate(9.2 153.2) scale(1.2 1)" text-anchor="start">q</text>
<text class="dt" transform="translate(13.5 144.5) scale(1.0 1)" text-anchor="middle">.</text>
<text class="mx" transform="translate(17.6 156.4) scale(1.2 1)" text-anchor="start">max</text>
<line x1="288.9" y1="140.2" x2="325.8" y2="140.2" stroke="#151515" stroke-width="1.25"/>
<text class="q" transform="translate(307.1 131.9) scale(1.2 1)" text-anchor="middle">q</text>
<text class="dt" transform="translate(307.9 123.2) scale(1.0 1)" text-anchor="middle">.</text>
<text class="q" transform="translate(289.8 156.3) scale(1.2 1)" text-anchor="start">q</text>
<text class="dt" transform="translate(294.1 147.6) scale(1.0 1)" text-anchor="middle">.</text>
<text class="mx" transform="translate(298.2 159.5) scale(1.2 1)" text-anchor="start">max</text>
<line x1="8.3" y1="338.6" x2="45.6" y2="338.6" stroke="#151515" stroke-width="1.25"/>
<text class="q" transform="translate(26.7 330.3) scale(1.2 1)" text-anchor="middle">q</text>
<text class="dt" transform="translate(25.5 321.6) scale(1.0 1)" text-anchor="middle">.</text>
<text class="dt" transform="translate(29.3 321.6) scale(1.0 1)" text-anchor="middle">.</text>
<text class="q" transform="translate(9.2 354.7) scale(1.2 1)" text-anchor="start">q</text>
<text class="dt" transform="translate(11.5 346.0) scale(1.0 1)" text-anchor="middle">.</text>
<text class="dt" transform="translate(15.3 346.0) scale(1.0 1)" text-anchor="middle">.</text>
<text class="mx" transform="translate(17.6 357.9) scale(1.2 1)" text-anchor="start">max</text>
<line x1="288.9" y1="339.4" x2="325.8" y2="339.4" stroke="#151515" stroke-width="1.25"/>
<text class="q" transform="translate(307.1 331.1) scale(1.2 1)" text-anchor="middle">q</text>
<text class="dt" transform="translate(305.9 322.4) scale(1.0 1)" text-anchor="middle">.</text>
<text class="dt" transform="translate(309.7 322.4) scale(1.0 1)" text-anchor="middle">.</text>
<text class="q" transform="translate(289.8 355.5) scale(1.2 1)" text-anchor="start">q</text>
<text class="dt" transform="translate(292.1 346.8) scale(1.0 1)" text-anchor="middle">.</text>
<text class="dt" transform="translate(295.9 346.8) scale(1.0 1)" text-anchor="middle">.</text>
<text class="mx" transform="translate(298.2 358.7) scale(1.2 1)" text-anchor="start">max</text>
<line x1="9.2" y1="536.4" x2="44.8" y2="536.4" stroke="#151515" stroke-width="1.25"/>
<text class="tau" transform="translate(27.3 529.2) scale(1.0 1)" text-anchor="middle">τ</text>
<text class="tau" transform="translate(9.5 553.8) scale(1.0 1)" text-anchor="start">τ</text>
<text class="mx" transform="translate(17.8 556.2) scale(1.2 1)" text-anchor="start">max</text>
<line x1="290.2" y1="536.5" x2="325.6" y2="536.5" stroke="#151515" stroke-width="1.25"/>
<text class="tau" transform="translate(308.2 529.3) scale(1.0 1)" text-anchor="middle">τ</text>
<text class="tau" transform="translate(290.5 553.9) scale(1.0 1)" text-anchor="start">τ</text>
<text class="mx" transform="translate(298.8 556.3) scale(1.2 1)" text-anchor="start">max</text>
<text class="tm" x="415.2" y="248.6">Time(s)</text>
<text class="tm" x="126.8" y="444.6">Time(s)</text>
<text class="tm" x="415.2" y="444.4">Time(s)</text>
<text class="tm" x="138.2" y="645">Time(s)</text>
<text class="tm" x="411.2" y="645.4">Time(s)</text>
</svg></body></html>
